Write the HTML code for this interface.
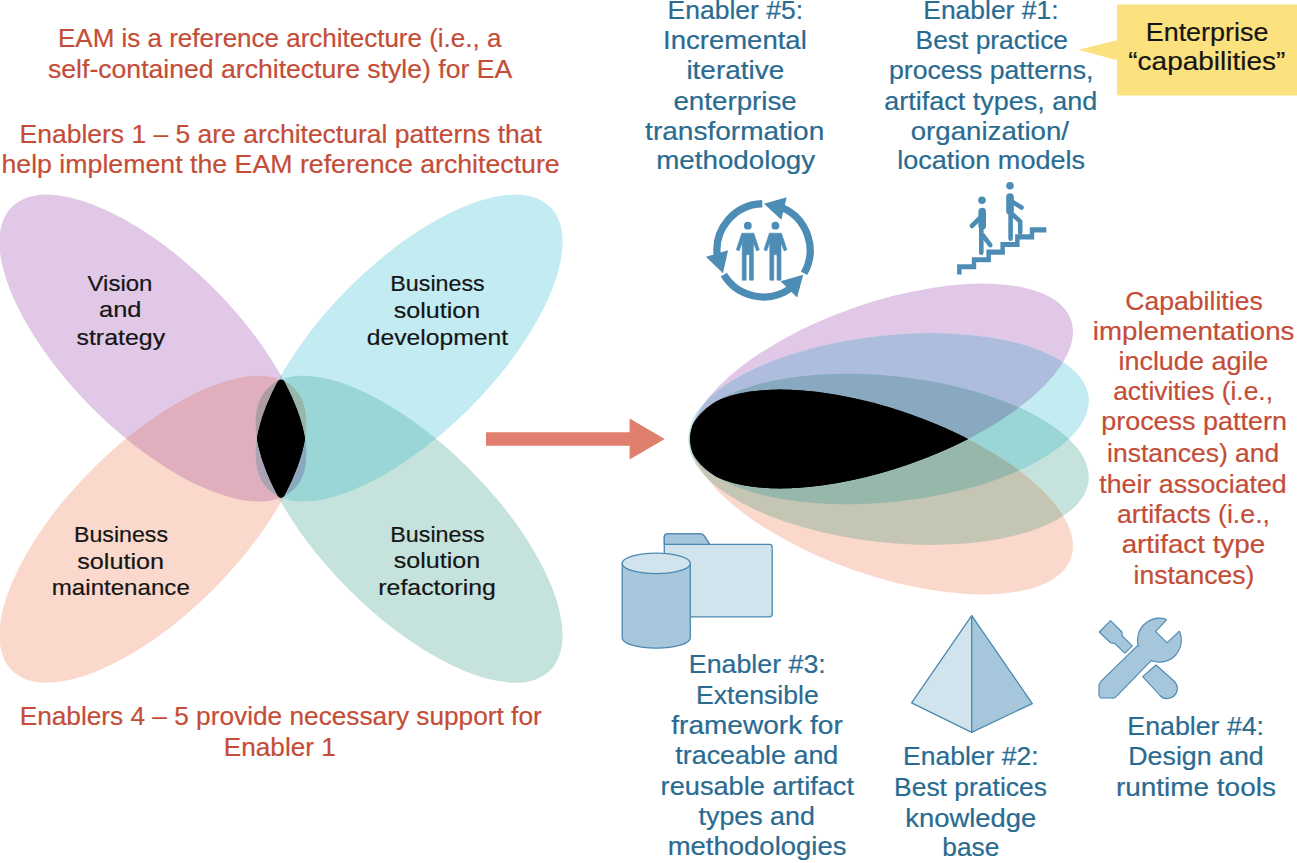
<!DOCTYPE html>
<html><head><meta charset="utf-8"><title>EAM reference architecture</title>
<style>
html,body{margin:0;padding:0;background:#fff;}
body{width:1297px;height:863px;overflow:hidden;position:relative;}
svg{position:absolute;left:0;top:0;display:block;}
text{font-family:"Liberation Sans", sans-serif;}
</style></head><body>
<svg width="1297" height="863" viewBox="0 0 1297 863">
<rect x="0" y="0" width="1297" height="863" fill="#fff"/>
<defs>
<clipPath id="Lc0"><ellipse cx="152.90" cy="348.10" rx="199.60" ry="85.30" transform="rotate(45.00 152.90 348.10)"/></clipPath>
<clipPath id="Lc1"><ellipse cx="409.10" cy="348.10" rx="199.60" ry="85.30" transform="rotate(-45.00 409.10 348.10)"/></clipPath>
<clipPath id="Lc2"><ellipse cx="152.90" cy="529.20" rx="199.60" ry="85.30" transform="rotate(-45.00 152.90 529.20)"/></clipPath>
<clipPath id="Lc3"><ellipse cx="409.10" cy="529.20" rx="199.60" ry="85.30" transform="rotate(45.00 409.10 529.20)"/></clipPath>
<clipPath id="Lk01" clip-path="url(#Lc0)"><ellipse cx="409.10" cy="348.10" rx="199.60" ry="85.30" transform="rotate(-45.00 409.10 348.10)"/></clipPath>
<clipPath id="Lk02" clip-path="url(#Lc0)"><ellipse cx="152.90" cy="529.20" rx="199.60" ry="85.30" transform="rotate(-45.00 152.90 529.20)"/></clipPath>
<clipPath id="Lk12" clip-path="url(#Lc1)"><ellipse cx="152.90" cy="529.20" rx="199.60" ry="85.30" transform="rotate(-45.00 152.90 529.20)"/></clipPath>
<clipPath id="Lk012" clip-path="url(#Lk01)"><ellipse cx="152.90" cy="529.20" rx="199.60" ry="85.30" transform="rotate(-45.00 152.90 529.20)"/></clipPath>
<clipPath id="Rc0"><ellipse cx="881.50" cy="386.00" rx="200.70" ry="82.90" transform="rotate(-19.19 881.50 386.00)"/></clipPath>
<clipPath id="Rc1"><ellipse cx="888.70" cy="418.70" rx="201.10" ry="83.30" transform="rotate(-6.18 888.70 418.70)"/></clipPath>
<clipPath id="Rc2"><ellipse cx="888.70" cy="459.30" rx="201.10" ry="83.30" transform="rotate(6.18 888.70 459.30)"/></clipPath>
<clipPath id="Rc3"><ellipse cx="881.50" cy="492.00" rx="200.70" ry="82.90" transform="rotate(19.19 881.50 492.00)"/></clipPath>
<clipPath id="Rk01" clip-path="url(#Rc0)"><ellipse cx="888.70" cy="418.70" rx="201.10" ry="83.30" transform="rotate(-6.18 888.70 418.70)"/></clipPath>
<clipPath id="Rk02" clip-path="url(#Rc0)"><ellipse cx="888.70" cy="459.30" rx="201.10" ry="83.30" transform="rotate(6.18 888.70 459.30)"/></clipPath>
<clipPath id="Rk12" clip-path="url(#Rc1)"><ellipse cx="888.70" cy="459.30" rx="201.10" ry="83.30" transform="rotate(6.18 888.70 459.30)"/></clipPath>
<clipPath id="Rk012" clip-path="url(#Rk01)"><ellipse cx="888.70" cy="459.30" rx="201.10" ry="83.30" transform="rotate(6.18 888.70 459.30)"/></clipPath>
</defs>
<g>
<ellipse cx="152.90" cy="348.10" rx="199.60" ry="85.30" transform="rotate(45.00 152.90 348.10)" fill="#e0c8e6"/>
<ellipse cx="409.10" cy="348.10" rx="199.60" ry="85.30" transform="rotate(-45.00 409.10 348.10)" fill="#c2ecf2"/>
<ellipse cx="152.90" cy="529.20" rx="199.60" ry="85.30" transform="rotate(-45.00 152.90 529.20)" fill="#fad9cc"/>
<ellipse cx="409.10" cy="529.20" rx="199.60" ry="85.30" transform="rotate(45.00 409.10 529.20)" fill="#c5e3dc"/>
<g clip-path="url(#Lc0)"><ellipse cx="409.10" cy="348.10" rx="199.60" ry="85.30" transform="rotate(-45.00 409.10 348.10)" fill="#aebdde"/></g>
<g clip-path="url(#Lc0)"><ellipse cx="152.90" cy="529.20" rx="199.60" ry="85.30" transform="rotate(-45.00 152.90 529.20)" fill="#e0aebc"/></g>
<g clip-path="url(#Lc0)"><ellipse cx="409.10" cy="529.20" rx="199.60" ry="85.30" transform="rotate(45.00 409.10 529.20)" fill="#b1b6ca"/></g>
<g clip-path="url(#Lc1)"><ellipse cx="152.90" cy="529.20" rx="199.60" ry="85.30" transform="rotate(-45.00 152.90 529.20)" fill="#c2cdc6"/></g>
<g clip-path="url(#Lc1)"><ellipse cx="409.10" cy="529.20" rx="199.60" ry="85.30" transform="rotate(45.00 409.10 529.20)" fill="#9ad6d5"/></g>
<g clip-path="url(#Lc2)"><ellipse cx="409.10" cy="529.20" rx="199.60" ry="85.30" transform="rotate(45.00 409.10 529.20)" fill="#c5c5b4"/></g>
<g clip-path="url(#Lk01)"><ellipse cx="152.90" cy="529.20" rx="199.60" ry="85.30" transform="rotate(-45.00 152.90 529.20)" fill="#aba2b3"/></g>
<g clip-path="url(#Lk01)"><ellipse cx="409.10" cy="529.20" rx="199.60" ry="85.30" transform="rotate(45.00 409.10 529.20)" fill="#88a9c0"/></g>
<g clip-path="url(#Lk02)"><ellipse cx="409.10" cy="529.20" rx="199.60" ry="85.30" transform="rotate(45.00 409.10 529.20)" fill="#ae9ca3"/></g>
<g clip-path="url(#Lk12)"><ellipse cx="409.10" cy="529.20" rx="199.60" ry="85.30" transform="rotate(45.00 409.10 529.20)" fill="#97b7ab"/></g>
<g clip-path="url(#Lk012)"><ellipse cx="409.10" cy="529.20" rx="199.60" ry="85.30" transform="rotate(45.00 409.10 529.20)" fill="#000"/></g>
<ellipse cx="881.50" cy="386.00" rx="200.70" ry="82.90" transform="rotate(-19.19 881.50 386.00)" fill="#e0c8e6"/>
<ellipse cx="888.70" cy="418.70" rx="201.10" ry="83.30" transform="rotate(-6.18 888.70 418.70)" fill="#c2ecf2"/>
<ellipse cx="888.70" cy="459.30" rx="201.10" ry="83.30" transform="rotate(6.18 888.70 459.30)" fill="#c5e3dc"/>
<ellipse cx="881.50" cy="492.00" rx="200.70" ry="82.90" transform="rotate(19.19 881.50 492.00)" fill="#fad9cc"/>
<g clip-path="url(#Rc0)"><ellipse cx="888.70" cy="418.70" rx="201.10" ry="83.30" transform="rotate(-6.18 888.70 418.70)" fill="#aebdde"/></g>
<g clip-path="url(#Rc0)"><ellipse cx="888.70" cy="459.30" rx="201.10" ry="83.30" transform="rotate(6.18 888.70 459.30)" fill="#b1b6ca"/></g>
<g clip-path="url(#Rc0)"><ellipse cx="881.50" cy="492.00" rx="200.70" ry="82.90" transform="rotate(19.19 881.50 492.00)" fill="#e0aebc"/></g>
<g clip-path="url(#Rc1)"><ellipse cx="888.70" cy="459.30" rx="201.10" ry="83.30" transform="rotate(6.18 888.70 459.30)" fill="#9ad6d5"/></g>
<g clip-path="url(#Rc1)"><ellipse cx="881.50" cy="492.00" rx="200.70" ry="82.90" transform="rotate(19.19 881.50 492.00)" fill="#c2cdc6"/></g>
<g clip-path="url(#Rc2)"><ellipse cx="881.50" cy="492.00" rx="200.70" ry="82.90" transform="rotate(19.19 881.50 492.00)" fill="#c5c5b4"/></g>
<g clip-path="url(#Rk01)"><ellipse cx="888.70" cy="459.30" rx="201.10" ry="83.30" transform="rotate(6.18 888.70 459.30)" fill="#88a9c0"/></g>
<g clip-path="url(#Rk01)"><ellipse cx="881.50" cy="492.00" rx="200.70" ry="82.90" transform="rotate(19.19 881.50 492.00)" fill="#aba2b3"/></g>
<g clip-path="url(#Rk02)"><ellipse cx="881.50" cy="492.00" rx="200.70" ry="82.90" transform="rotate(19.19 881.50 492.00)" fill="#ae9ca3"/></g>
<g clip-path="url(#Rk12)"><ellipse cx="881.50" cy="492.00" rx="200.70" ry="82.90" transform="rotate(19.19 881.50 492.00)" fill="#97b7ab"/></g>
<g clip-path="url(#Rk012)"><ellipse cx="881.50" cy="492.00" rx="200.70" ry="82.90" transform="rotate(19.19 881.50 492.00)" fill="#000"/></g>
<path d="M305.05,438.65 L305.04,438.73 L305.03,438.80 L305.01,438.88 L305.00,438.95 L304.99,439.03 L304.98,439.10 L304.96,439.18 L304.95,439.25 L304.94,439.33 L304.92,439.40 L304.91,439.48 L304.90,439.55 L304.89,439.63 L304.87,439.70 L304.86,439.78 L304.85,439.85 L304.83,439.92 L304.82,440.00 L304.81,440.07 L304.80,440.15 L304.78,440.22 L304.77,440.30 L304.76,440.37 L304.74,440.44 L304.73,440.52 L304.72,440.59 L304.70,440.67 L304.69,440.74 L304.68,440.81 L304.66,440.89 L304.65,440.96 L304.64,441.03 L304.62,441.11 L304.61,441.18 L304.60,441.25 L304.58,441.33 L304.57,441.40 L304.55,441.48 L304.54,441.55 L304.53,441.62 L304.51,441.70 L304.50,441.77 L304.48,441.84 L304.47,441.92 L304.46,441.99 L304.44,442.06 L304.43,442.13 L304.41,442.21 L304.40,442.28 L304.39,442.35 L304.37,442.43 L304.36,442.50 L304.34,442.57 L304.33,442.65 L304.31,442.72 L304.30,442.79 L304.29,442.86 L304.27,442.94 L304.26,443.01 L304.24,443.08 L304.23,443.16 L304.21,443.23 L304.20,443.30 L304.18,443.37 L304.17,443.45 L304.15,443.52 L304.14,443.59 L304.12,443.67 L304.11,443.74 L304.09,443.81 L304.08,443.88 L304.06,443.96 L304.05,444.03 L304.03,444.10 L304.02,444.18 L304.00,444.25 L303.99,444.32 L303.97,444.39 L303.95,444.47 L303.94,444.54 L303.92,444.61 L303.91,444.69 L303.89,444.76 L303.88,444.83 L303.86,444.90 L303.85,444.98 L303.83,445.05 L303.81,445.12 L303.80,445.20 L303.78,445.27 L303.77,445.34 L303.75,445.41 L303.73,445.49 L303.72,445.56 L303.70,445.63 L303.68,445.71 L303.67,445.78 L303.65,445.85 L303.64,445.93 L303.62,446.00 L303.60,446.07 L303.59,446.15 L303.57,446.22 L303.55,446.29 L303.54,446.37 L303.52,446.44 L303.50,446.51 L303.49,446.59 L303.47,446.66 L303.45,446.73 L303.44,446.81 L303.42,446.88 L303.40,446.95 L303.38,447.03 L303.37,447.10 L303.35,447.18 L303.33,447.25 L303.31,447.32 L303.30,447.40 L303.28,447.47 L303.26,447.55 L303.24,447.62 L303.23,447.69 L303.21,447.77 L303.19,447.84 L303.17,447.92 L303.16,447.99 L303.14,448.07 L303.12,448.14 L303.10,448.21 L303.08,448.29 L303.07,448.36 L303.05,448.44 L303.03,448.51 L303.01,448.59 L302.99,448.66 L302.97,448.74 L302.96,448.81 L302.94,448.89 L302.92,448.96 L302.90,449.04 L302.88,449.11 L302.86,449.19 L302.84,449.27 L302.82,449.34 L302.81,449.42 L302.79,449.49 L302.77,449.57 L302.75,449.65 L302.73,449.72 L302.71,449.80 L302.69,449.87 L302.67,449.95 L302.65,450.03 L302.63,450.10 L302.61,450.18 L302.59,450.26 L302.57,450.33 L302.55,450.41 L302.53,450.49 L302.51,450.56 L302.49,450.64 L302.47,450.72 L302.45,450.80 L302.43,450.87 L302.41,450.95 L302.39,451.03 L302.37,451.11 L302.35,451.19 L302.33,451.26 L302.31,451.34 L302.29,451.42 L302.27,451.50 L302.24,451.58 L302.22,451.66 L302.20,451.73 L302.18,451.81 L302.16,451.89 L302.14,451.97 L302.12,452.05 L302.10,452.13 L302.07,452.21 L302.05,452.29 L302.03,452.37 L302.01,452.45 L301.99,452.53 L301.96,452.61 L301.94,452.69 L301.92,452.77 L301.90,452.85 L301.88,452.93 L301.85,453.01 L301.83,453.10 L301.81,453.18 L301.78,453.26 L301.76,453.34 L301.74,453.42 L301.72,453.50 L301.69,453.59 L301.67,453.67 L301.65,453.75 L301.62,453.83 L301.60,453.92 L301.58,454.00 L301.55,454.08 L301.53,454.16 L301.50,454.25 L301.48,454.33 L301.46,454.42 L301.43,454.50 L301.41,454.58 L301.38,454.67 L301.36,454.75 L301.33,454.84 L301.31,454.92 L301.29,455.01 L301.26,455.09 L301.24,455.18 L301.21,455.26 L301.18,455.35 L301.16,455.43 L301.13,455.52 L301.11,455.61 L301.08,455.69 L301.06,455.78 L301.03,455.87 L301.00,455.95 L300.98,456.04 L300.95,456.13 L300.93,456.22 L300.90,456.31 L300.87,456.39 L300.85,456.48 L300.82,456.57 L300.79,456.66 L300.77,456.75 L300.74,456.84 L300.71,456.93 L300.68,457.02 L300.66,457.11 L300.63,457.20 L300.60,457.29 L300.57,457.38 L300.54,457.47 L300.52,457.56 L300.49,457.65 L300.46,457.75 L300.43,457.84 L300.40,457.93 L300.37,458.02 L300.34,458.12 L300.31,458.21 L300.28,458.30 L300.26,458.40 L300.23,458.49 L300.20,458.58 L300.17,458.68 L300.14,458.77 L300.11,458.87 L300.08,458.96 L300.04,459.06 L300.01,459.15 L299.98,459.25 L299.95,459.35 L299.92,459.44 L299.89,459.54 L299.86,459.64 L299.83,459.74 L299.79,459.83 L299.76,459.93 L299.73,460.03 L299.70,460.13 L299.67,460.23 L299.63,460.33 L299.60,460.43 L299.57,460.53 L299.53,460.63 L299.50,460.73 L299.47,460.83 L299.43,460.93 L299.40,461.03 L299.37,461.14 L299.33,461.24 L299.30,461.34 L299.26,461.45 L299.23,461.55 L299.19,461.65 L299.16,461.76 L299.12,461.86 L299.09,461.97 L299.05,462.07 L299.01,462.18 L298.98,462.28 L298.94,462.39 L298.91,462.50 L298.87,462.61 L298.83,462.71 L298.79,462.82 L298.76,462.93 L298.72,463.04 L298.68,463.15 L298.64,463.26 L298.61,463.37 L298.57,463.48 L298.53,463.59 L298.49,463.70 L298.45,463.81 L298.41,463.93 L298.37,464.04 L298.33,464.15 L298.29,464.27 L298.25,464.38 L298.21,464.49 L298.17,464.61 L298.13,464.72 L298.09,464.84 L298.04,464.96 L298.00,465.07 L297.96,465.19 L297.92,465.31 L297.88,465.43 L297.83,465.55 L297.79,465.67 L297.75,465.78 L297.70,465.91 L297.66,466.03 L297.61,466.15 L297.57,466.27 L297.52,466.39 L297.48,466.51 L297.43,466.64 L297.39,466.76 L297.34,466.89 L297.30,467.01 L297.25,467.14 L297.20,467.26 L297.15,467.39 L297.11,467.52 L297.06,467.65 L297.01,467.77 L296.96,467.90 L296.91,468.03 L296.86,468.16 L296.81,468.29 L296.77,468.43 L296.71,468.56 L296.66,468.69 L296.61,468.82 L296.56,468.96 L296.51,469.09 L296.46,469.23 L296.41,469.36 L296.35,469.50 L296.30,469.64 L296.25,469.77 L296.19,469.91 L296.14,470.05 L296.09,470.19 L296.03,470.33 L295.98,470.47 L295.92,470.62 L295.86,470.76 L295.81,470.90 L295.75,471.05 L295.69,471.19 L295.63,471.34 L295.58,471.48 L295.52,471.63 L295.46,471.78 L295.40,471.93 L295.34,472.08 L295.28,472.23 L295.22,472.38 L295.16,472.53 L295.10,472.68 L295.03,472.83 L294.97,472.99 L294.91,473.14 L294.84,473.30 L294.78,473.46 L294.72,473.61 L294.65,473.77 L294.59,473.93 L294.52,474.09 L294.45,474.25 L294.39,474.41 L294.32,474.58 L294.25,474.74 L294.18,474.90 L294.11,475.07 L294.04,475.24 L293.97,475.40 L293.90,475.57 L293.83,475.74 L293.76,475.91 L293.68,476.08 L293.61,476.25 L293.54,476.43 L293.46,476.60 L293.39,476.78 L293.31,476.95 L293.24,477.13 L293.16,477.31 L293.08,477.49 L293.00,477.67 L292.93,477.85 L292.85,478.03 L292.77,478.22 L292.68,478.40 L292.60,478.59 L292.52,478.78 L292.44,478.96 L292.35,479.15 L292.27,479.34 L292.19,479.54 L292.10,479.73 L292.01,479.92 L291.93,480.12 L291.84,480.31 L291.75,480.51 L291.66,480.71 L291.57,480.91 L291.48,481.11 L291.39,481.32 L291.29,481.52 L291.20,481.73 L291.10,481.93 L291.01,482.14 L290.91,482.35 L290.82,482.56 L290.72,482.78 L290.62,482.99 L290.52,483.20 L290.42,483.42 L290.32,483.64 L290.21,483.86 L290.11,484.08 L290.01,484.30 L289.90,484.53 L289.79,484.75 L289.69,484.98 L289.58,485.21 L289.47,485.44 L289.36,485.67 L289.25,485.90 L289.13,486.14 L289.02,486.37 L288.91,486.61 L288.79,486.85 L288.67,487.09 L288.55,487.34 L288.44,487.58 L288.31,487.83 L288.19,488.08 L288.07,488.33 L287.95,488.58 L287.82,488.83 L287.69,489.09 L287.57,489.35 L287.44,489.61 L287.31,489.87 L287.18,490.13 L287.04,490.40 L286.91,490.66 L286.77,490.93 L286.64,491.20 L286.50,491.48 L286.36,491.75 L286.22,492.03 L286.07,492.31 L285.93,492.59 L285.78,492.87 L285.63,493.16 L285.49,493.45 L285.34,493.74 L285.18,494.03 L285.03,494.32 L284.87,494.62 L284.72,494.92 L284.56,495.22 L284.40,495.53 L284.24,495.83 L284.07,496.14 L283.91,496.44 L283.73,496.53 L283.55,496.61 L283.37,496.70 L283.19,496.78 L283.01,496.87 L282.83,496.95 L282.65,497.03 L282.47,497.12 L282.29,497.20 L282.11,497.28 L281.92,497.36 L281.74,497.43 L281.55,497.51 L281.37,497.59 L281.19,497.67 L281.00,497.74 L280.81,497.67 L280.63,497.59 L280.45,497.51 L280.26,497.43 L280.08,497.36 L279.89,497.28 L279.71,497.20 L279.53,497.12 L279.35,497.03 L279.17,496.95 L278.99,496.87 L278.81,496.78 L278.63,496.70 L278.45,496.61 L278.27,496.53 L278.09,496.44 L277.93,496.14 L277.76,495.83 L277.60,495.53 L277.44,495.22 L277.28,494.92 L277.13,494.62 L276.97,494.32 L276.82,494.03 L276.66,493.74 L276.51,493.45 L276.37,493.16 L276.22,492.87 L276.07,492.59 L275.93,492.31 L275.78,492.03 L275.64,491.75 L275.50,491.48 L275.36,491.20 L275.23,490.93 L275.09,490.66 L274.96,490.40 L274.82,490.13 L274.69,489.87 L274.56,489.61 L274.43,489.35 L274.31,489.09 L274.18,488.83 L274.05,488.58 L273.93,488.33 L273.81,488.08 L273.69,487.83 L273.56,487.58 L273.45,487.34 L273.33,487.09 L273.21,486.85 L273.09,486.61 L272.98,486.37 L272.87,486.14 L272.75,485.90 L272.64,485.67 L272.53,485.44 L272.42,485.21 L272.31,484.98 L272.21,484.75 L272.10,484.53 L271.99,484.30 L271.89,484.08 L271.79,483.86 L271.68,483.64 L271.58,483.42 L271.48,483.20 L271.38,482.99 L271.28,482.78 L271.18,482.56 L271.09,482.35 L270.99,482.14 L270.90,481.93 L270.80,481.73 L270.71,481.52 L270.61,481.32 L270.52,481.11 L270.43,480.91 L270.34,480.71 L270.25,480.51 L270.16,480.31 L270.07,480.12 L269.99,479.92 L269.90,479.73 L269.81,479.54 L269.73,479.34 L269.65,479.15 L269.56,478.96 L269.48,478.78 L269.40,478.59 L269.32,478.40 L269.23,478.22 L269.15,478.03 L269.07,477.85 L269.00,477.67 L268.92,477.49 L268.84,477.31 L268.76,477.13 L268.69,476.95 L268.61,476.78 L268.54,476.60 L268.46,476.43 L268.39,476.25 L268.32,476.08 L268.24,475.91 L268.17,475.74 L268.10,475.57 L268.03,475.40 L267.96,475.24 L267.89,475.07 L267.82,474.90 L267.75,474.74 L267.68,474.58 L267.61,474.41 L267.55,474.25 L267.48,474.09 L267.41,473.93 L267.35,473.77 L267.28,473.61 L267.22,473.46 L267.16,473.30 L267.09,473.14 L267.03,472.99 L266.97,472.83 L266.90,472.68 L266.84,472.53 L266.78,472.38 L266.72,472.23 L266.66,472.08 L266.60,471.93 L266.54,471.78 L266.48,471.63 L266.42,471.48 L266.37,471.34 L266.31,471.19 L266.25,471.05 L266.19,470.90 L266.14,470.76 L266.08,470.62 L266.02,470.47 L265.97,470.33 L265.91,470.19 L265.86,470.05 L265.81,469.91 L265.75,469.77 L265.70,469.64 L265.65,469.50 L265.59,469.36 L265.54,469.23 L265.49,469.09 L265.44,468.96 L265.39,468.82 L265.34,468.69 L265.29,468.56 L265.23,468.43 L265.19,468.29 L265.14,468.16 L265.09,468.03 L265.04,467.90 L264.99,467.77 L264.94,467.65 L264.89,467.52 L264.85,467.39 L264.80,467.26 L264.75,467.14 L264.70,467.01 L264.66,466.89 L264.61,466.76 L264.57,466.64 L264.52,466.51 L264.48,466.39 L264.43,466.27 L264.39,466.15 L264.34,466.03 L264.30,465.91 L264.25,465.78 L264.21,465.67 L264.17,465.55 L264.12,465.43 L264.08,465.31 L264.04,465.19 L264.00,465.07 L263.96,464.96 L263.91,464.84 L263.87,464.72 L263.83,464.61 L263.79,464.49 L263.75,464.38 L263.71,464.27 L263.67,464.15 L263.63,464.04 L263.59,463.93 L263.55,463.81 L263.51,463.70 L263.47,463.59 L263.43,463.48 L263.39,463.37 L263.36,463.26 L263.32,463.15 L263.28,463.04 L263.24,462.93 L263.21,462.82 L263.17,462.71 L263.13,462.61 L263.09,462.50 L263.06,462.39 L263.02,462.28 L262.99,462.18 L262.95,462.07 L262.91,461.97 L262.88,461.86 L262.84,461.76 L262.81,461.65 L262.77,461.55 L262.74,461.45 L262.70,461.34 L262.67,461.24 L262.63,461.14 L262.60,461.03 L262.57,460.93 L262.53,460.83 L262.50,460.73 L262.47,460.63 L262.43,460.53 L262.40,460.43 L262.37,460.33 L262.33,460.23 L262.30,460.13 L262.27,460.03 L262.24,459.93 L262.21,459.83 L262.17,459.74 L262.14,459.64 L262.11,459.54 L262.08,459.44 L262.05,459.35 L262.02,459.25 L261.99,459.15 L261.96,459.06 L261.92,458.96 L261.89,458.87 L261.86,458.77 L261.83,458.68 L261.80,458.58 L261.77,458.49 L261.74,458.40 L261.72,458.30 L261.69,458.21 L261.66,458.12 L261.63,458.02 L261.60,457.93 L261.57,457.84 L261.54,457.75 L261.51,457.65 L261.48,457.56 L261.46,457.47 L261.43,457.38 L261.40,457.29 L261.37,457.20 L261.34,457.11 L261.32,457.02 L261.29,456.93 L261.26,456.84 L261.23,456.75 L261.21,456.66 L261.18,456.57 L261.15,456.48 L261.13,456.39 L261.10,456.31 L261.07,456.22 L261.05,456.13 L261.02,456.04 L261.00,455.95 L260.97,455.87 L260.94,455.78 L260.92,455.69 L260.89,455.61 L260.87,455.52 L260.84,455.43 L260.82,455.35 L260.79,455.26 L260.76,455.18 L260.74,455.09 L260.71,455.01 L260.69,454.92 L260.67,454.84 L260.64,454.75 L260.62,454.67 L260.59,454.58 L260.57,454.50 L260.54,454.42 L260.52,454.33 L260.50,454.25 L260.47,454.16 L260.45,454.08 L260.42,454.00 L260.40,453.92 L260.38,453.83 L260.35,453.75 L260.33,453.67 L260.31,453.59 L260.28,453.50 L260.26,453.42 L260.24,453.34 L260.22,453.26 L260.19,453.18 L260.17,453.10 L260.15,453.01 L260.12,452.93 L260.10,452.85 L260.08,452.77 L260.06,452.69 L260.04,452.61 L260.01,452.53 L259.99,452.45 L259.97,452.37 L259.95,452.29 L259.93,452.21 L259.90,452.13 L259.88,452.05 L259.86,451.97 L259.84,451.89 L259.82,451.81 L259.80,451.73 L259.78,451.66 L259.76,451.58 L259.73,451.50 L259.71,451.42 L259.69,451.34 L259.67,451.26 L259.65,451.19 L259.63,451.11 L259.61,451.03 L259.59,450.95 L259.57,450.87 L259.55,450.80 L259.53,450.72 L259.51,450.64 L259.49,450.56 L259.47,450.49 L259.45,450.41 L259.43,450.33 L259.41,450.26 L259.39,450.18 L259.37,450.10 L259.35,450.03 L259.33,449.95 L259.31,449.87 L259.29,449.80 L259.27,449.72 L259.25,449.65 L259.23,449.57 L259.21,449.49 L259.19,449.42 L259.18,449.34 L259.16,449.27 L259.14,449.19 L259.12,449.11 L259.10,449.04 L259.08,448.96 L259.06,448.89 L259.04,448.81 L259.03,448.74 L259.01,448.66 L258.99,448.59 L258.97,448.51 L258.95,448.44 L258.93,448.36 L258.92,448.29 L258.90,448.21 L258.88,448.14 L258.86,448.07 L258.84,447.99 L258.83,447.92 L258.81,447.84 L258.79,447.77 L258.77,447.69 L258.76,447.62 L258.74,447.55 L258.72,447.47 L258.70,447.40 L258.69,447.32 L258.67,447.25 L258.65,447.18 L258.63,447.10 L258.62,447.03 L258.60,446.95 L258.58,446.88 L258.56,446.81 L258.55,446.73 L258.53,446.66 L258.51,446.59 L258.50,446.51 L258.48,446.44 L258.46,446.37 L258.45,446.29 L258.43,446.22 L258.41,446.15 L258.40,446.07 L258.38,446.00 L258.36,445.93 L258.35,445.85 L258.33,445.78 L258.32,445.71 L258.30,445.63 L258.28,445.56 L258.27,445.49 L258.25,445.41 L258.23,445.34 L258.22,445.27 L258.20,445.20 L258.19,445.12 L258.17,445.05 L258.15,444.98 L258.14,444.90 L258.12,444.83 L258.11,444.76 L258.09,444.69 L258.08,444.61 L258.06,444.54 L258.05,444.47 L258.03,444.39 L258.01,444.32 L258.00,444.25 L257.98,444.18 L257.97,444.10 L257.95,444.03 L257.94,443.96 L257.92,443.88 L257.91,443.81 L257.89,443.74 L257.88,443.67 L257.86,443.59 L257.85,443.52 L257.83,443.45 L257.82,443.37 L257.80,443.30 L257.79,443.23 L257.77,443.16 L257.76,443.08 L257.74,443.01 L257.73,442.94 L257.71,442.86 L257.70,442.79 L257.69,442.72 L257.67,442.65 L257.66,442.57 L257.64,442.50 L257.63,442.43 L257.61,442.35 L257.60,442.28 L257.59,442.21 L257.57,442.13 L257.56,442.06 L257.54,441.99 L257.53,441.92 L257.52,441.84 L257.50,441.77 L257.49,441.70 L257.47,441.62 L257.46,441.55 L257.45,441.48 L257.43,441.40 L257.42,441.33 L257.40,441.25 L257.39,441.18 L257.38,441.11 L257.36,441.03 L257.35,440.96 L257.34,440.89 L257.32,440.81 L257.31,440.74 L257.30,440.67 L257.28,440.59 L257.27,440.52 L257.26,440.44 L257.24,440.37 L257.23,440.30 L257.22,440.22 L257.20,440.15 L257.19,440.07 L257.18,440.00 L257.17,439.92 L257.15,439.85 L257.14,439.78 L257.13,439.70 L257.11,439.63 L257.10,439.55 L257.09,439.48 L257.08,439.40 L257.06,439.33 L257.05,439.25 L257.04,439.18 L257.02,439.10 L257.01,439.03 L257.00,438.95 L256.99,438.88 L256.97,438.80 L256.96,438.73 L256.95,438.65 L256.96,438.57 L256.97,438.50 L256.99,438.42 L257.00,438.35 L257.01,438.27 L257.02,438.20 L257.04,438.12 L257.05,438.05 L257.06,437.97 L257.08,437.90 L257.09,437.82 L257.10,437.75 L257.11,437.67 L257.13,437.60 L257.14,437.52 L257.15,437.45 L257.17,437.38 L257.18,437.30 L257.19,437.23 L257.20,437.15 L257.22,437.08 L257.23,437.00 L257.24,436.93 L257.26,436.86 L257.27,436.78 L257.28,436.71 L257.30,436.63 L257.31,436.56 L257.32,436.49 L257.34,436.41 L257.35,436.34 L257.36,436.27 L257.38,436.19 L257.39,436.12 L257.40,436.05 L257.42,435.97 L257.43,435.90 L257.45,435.82 L257.46,435.75 L257.47,435.68 L257.49,435.60 L257.50,435.53 L257.52,435.46 L257.53,435.38 L257.54,435.31 L257.56,435.24 L257.57,435.17 L257.59,435.09 L257.60,435.02 L257.61,434.95 L257.63,434.87 L257.64,434.80 L257.66,434.73 L257.67,434.65 L257.69,434.58 L257.70,434.51 L257.71,434.44 L257.73,434.36 L257.74,434.29 L257.76,434.22 L257.77,434.14 L257.79,434.07 L257.80,434.00 L257.82,433.93 L257.83,433.85 L257.85,433.78 L257.86,433.71 L257.88,433.63 L257.89,433.56 L257.91,433.49 L257.92,433.42 L257.94,433.34 L257.95,433.27 L257.97,433.20 L257.98,433.12 L258.00,433.05 L258.01,432.98 L258.03,432.91 L258.05,432.83 L258.06,432.76 L258.08,432.69 L258.09,432.61 L258.11,432.54 L258.12,432.47 L258.14,432.40 L258.15,432.32 L258.17,432.25 L258.19,432.18 L258.20,432.10 L258.22,432.03 L258.23,431.96 L258.25,431.89 L258.27,431.81 L258.28,431.74 L258.30,431.67 L258.32,431.59 L258.33,431.52 L258.35,431.45 L258.36,431.37 L258.38,431.30 L258.40,431.23 L258.41,431.15 L258.43,431.08 L258.45,431.01 L258.46,430.93 L258.48,430.86 L258.50,430.79 L258.51,430.71 L258.53,430.64 L258.55,430.57 L258.56,430.49 L258.58,430.42 L258.60,430.35 L258.62,430.27 L258.63,430.20 L258.65,430.12 L258.67,430.05 L258.69,429.98 L258.70,429.90 L258.72,429.83 L258.74,429.75 L258.76,429.68 L258.77,429.61 L258.79,429.53 L258.81,429.46 L258.83,429.38 L258.84,429.31 L258.86,429.23 L258.88,429.16 L258.90,429.09 L258.92,429.01 L258.93,428.94 L258.95,428.86 L258.97,428.79 L258.99,428.71 L259.01,428.64 L259.03,428.56 L259.04,428.49 L259.06,428.41 L259.08,428.34 L259.10,428.26 L259.12,428.19 L259.14,428.11 L259.16,428.03 L259.18,427.96 L259.19,427.88 L259.21,427.81 L259.23,427.73 L259.25,427.65 L259.27,427.58 L259.29,427.50 L259.31,427.43 L259.33,427.35 L259.35,427.27 L259.37,427.20 L259.39,427.12 L259.41,427.04 L259.43,426.97 L259.45,426.89 L259.47,426.81 L259.49,426.74 L259.51,426.66 L259.53,426.58 L259.55,426.50 L259.57,426.43 L259.59,426.35 L259.61,426.27 L259.63,426.19 L259.65,426.11 L259.67,426.04 L259.69,425.96 L259.71,425.88 L259.73,425.80 L259.76,425.72 L259.78,425.64 L259.80,425.57 L259.82,425.49 L259.84,425.41 L259.86,425.33 L259.88,425.25 L259.90,425.17 L259.93,425.09 L259.95,425.01 L259.97,424.93 L259.99,424.85 L260.01,424.77 L260.04,424.69 L260.06,424.61 L260.08,424.53 L260.10,424.45 L260.12,424.37 L260.15,424.29 L260.17,424.20 L260.19,424.12 L260.22,424.04 L260.24,423.96 L260.26,423.88 L260.28,423.80 L260.31,423.71 L260.33,423.63 L260.35,423.55 L260.38,423.47 L260.40,423.38 L260.42,423.30 L260.45,423.22 L260.47,423.14 L260.50,423.05 L260.52,422.97 L260.54,422.88 L260.57,422.80 L260.59,422.72 L260.62,422.63 L260.64,422.55 L260.67,422.46 L260.69,422.38 L260.71,422.29 L260.74,422.21 L260.76,422.12 L260.79,422.04 L260.82,421.95 L260.84,421.87 L260.87,421.78 L260.89,421.69 L260.92,421.61 L260.94,421.52 L260.97,421.43 L261.00,421.35 L261.02,421.26 L261.05,421.17 L261.07,421.08 L261.10,420.99 L261.13,420.91 L261.15,420.82 L261.18,420.73 L261.21,420.64 L261.23,420.55 L261.26,420.46 L261.29,420.37 L261.32,420.28 L261.34,420.19 L261.37,420.10 L261.40,420.01 L261.43,419.92 L261.46,419.83 L261.48,419.74 L261.51,419.65 L261.54,419.55 L261.57,419.46 L261.60,419.37 L261.63,419.28 L261.66,419.18 L261.69,419.09 L261.72,419.00 L261.74,418.90 L261.77,418.81 L261.80,418.72 L261.83,418.62 L261.86,418.53 L261.89,418.43 L261.92,418.34 L261.96,418.24 L261.99,418.15 L262.02,418.05 L262.05,417.95 L262.08,417.86 L262.11,417.76 L262.14,417.66 L262.17,417.56 L262.21,417.47 L262.24,417.37 L262.27,417.27 L262.30,417.17 L262.33,417.07 L262.37,416.97 L262.40,416.87 L262.43,416.77 L262.47,416.67 L262.50,416.57 L262.53,416.47 L262.57,416.37 L262.60,416.27 L262.63,416.16 L262.67,416.06 L262.70,415.96 L262.74,415.85 L262.77,415.75 L262.81,415.65 L262.84,415.54 L262.88,415.44 L262.91,415.33 L262.95,415.23 L262.99,415.12 L263.02,415.02 L263.06,414.91 L263.09,414.80 L263.13,414.69 L263.17,414.59 L263.21,414.48 L263.24,414.37 L263.28,414.26 L263.32,414.15 L263.36,414.04 L263.39,413.93 L263.43,413.82 L263.47,413.71 L263.51,413.60 L263.55,413.49 L263.59,413.37 L263.63,413.26 L263.67,413.15 L263.71,413.03 L263.75,412.92 L263.79,412.81 L263.83,412.69 L263.87,412.58 L263.91,412.46 L263.96,412.34 L264.00,412.23 L264.04,412.11 L264.08,411.99 L264.12,411.87 L264.17,411.75 L264.21,411.63 L264.25,411.52 L264.30,411.39 L264.34,411.27 L264.39,411.15 L264.43,411.03 L264.48,410.91 L264.52,410.79 L264.57,410.66 L264.61,410.54 L264.66,410.41 L264.70,410.29 L264.75,410.16 L264.80,410.04 L264.85,409.91 L264.89,409.78 L264.94,409.65 L264.99,409.53 L265.04,409.40 L265.09,409.27 L265.14,409.14 L265.19,409.01 L265.23,408.87 L265.29,408.74 L265.34,408.61 L265.39,408.48 L265.44,408.34 L265.49,408.21 L265.54,408.07 L265.59,407.94 L265.65,407.80 L265.70,407.66 L265.75,407.53 L265.81,407.39 L265.86,407.25 L265.91,407.11 L265.97,406.97 L266.02,406.83 L266.08,406.68 L266.14,406.54 L266.19,406.40 L266.25,406.25 L266.31,406.11 L266.37,405.96 L266.42,405.82 L266.48,405.67 L266.54,405.52 L266.60,405.37 L266.66,405.22 L266.72,405.07 L266.78,404.92 L266.84,404.77 L266.90,404.62 L266.97,404.47 L267.03,404.31 L267.09,404.16 L267.16,404.00 L267.22,403.84 L267.28,403.69 L267.35,403.53 L267.41,403.37 L267.48,403.21 L267.55,403.05 L267.61,402.89 L267.68,402.72 L267.75,402.56 L267.82,402.40 L267.89,402.23 L267.96,402.06 L268.03,401.90 L268.10,401.73 L268.17,401.56 L268.24,401.39 L268.32,401.22 L268.39,401.05 L268.46,400.87 L268.54,400.70 L268.61,400.52 L268.69,400.35 L268.76,400.17 L268.84,399.99 L268.92,399.81 L269.00,399.63 L269.07,399.45 L269.15,399.27 L269.23,399.08 L269.32,398.90 L269.40,398.71 L269.48,398.52 L269.56,398.34 L269.65,398.15 L269.73,397.96 L269.81,397.76 L269.90,397.57 L269.99,397.38 L270.07,397.18 L270.16,396.99 L270.25,396.79 L270.34,396.59 L270.43,396.39 L270.52,396.19 L270.61,395.98 L270.71,395.78 L270.80,395.57 L270.90,395.37 L270.99,395.16 L271.09,394.95 L271.18,394.74 L271.28,394.52 L271.38,394.31 L271.48,394.10 L271.58,393.88 L271.68,393.66 L271.79,393.44 L271.89,393.22 L271.99,393.00 L272.10,392.77 L272.21,392.55 L272.31,392.32 L272.42,392.09 L272.53,391.86 L272.64,391.63 L272.75,391.40 L272.87,391.16 L272.98,390.93 L273.09,390.69 L273.21,390.45 L273.33,390.21 L273.45,389.96 L273.56,389.72 L273.69,389.47 L273.81,389.22 L273.93,388.97 L274.05,388.72 L274.18,388.47 L274.31,388.21 L274.43,387.95 L274.56,387.69 L274.69,387.43 L274.82,387.17 L274.96,386.90 L275.09,386.64 L275.23,386.37 L275.36,386.10 L275.50,385.82 L275.64,385.55 L275.78,385.27 L275.93,384.99 L276.07,384.71 L276.22,384.43 L276.37,384.14 L276.51,383.85 L276.66,383.56 L276.82,383.27 L276.97,382.98 L277.13,382.68 L277.28,382.38 L277.44,382.08 L277.60,381.77 L277.76,381.47 L277.93,381.16 L278.09,380.86 L278.27,380.77 L278.45,380.69 L278.63,380.60 L278.81,380.52 L278.99,380.43 L279.17,380.35 L279.35,380.27 L279.53,380.18 L279.71,380.10 L279.89,380.02 L280.08,379.94 L280.26,379.87 L280.45,379.79 L280.63,379.71 L280.81,379.63 L281.00,379.56 L281.19,379.63 L281.37,379.71 L281.55,379.79 L281.74,379.87 L281.92,379.94 L282.11,380.02 L282.29,380.10 L282.47,380.18 L282.65,380.27 L282.83,380.35 L283.01,380.43 L283.19,380.52 L283.37,380.60 L283.55,380.69 L283.73,380.77 L283.91,380.86 L284.07,381.16 L284.24,381.47 L284.40,381.77 L284.56,382.08 L284.72,382.38 L284.87,382.68 L285.03,382.98 L285.18,383.27 L285.34,383.56 L285.49,383.85 L285.63,384.14 L285.78,384.43 L285.93,384.71 L286.07,384.99 L286.22,385.27 L286.36,385.55 L286.50,385.82 L286.64,386.10 L286.77,386.37 L286.91,386.64 L287.04,386.90 L287.18,387.17 L287.31,387.43 L287.44,387.69 L287.57,387.95 L287.69,388.21 L287.82,388.47 L287.95,388.72 L288.07,388.97 L288.19,389.22 L288.31,389.47 L288.44,389.72 L288.55,389.96 L288.67,390.21 L288.79,390.45 L288.91,390.69 L289.02,390.93 L289.13,391.16 L289.25,391.40 L289.36,391.63 L289.47,391.86 L289.58,392.09 L289.69,392.32 L289.79,392.55 L289.90,392.77 L290.01,393.00 L290.11,393.22 L290.21,393.44 L290.32,393.66 L290.42,393.88 L290.52,394.10 L290.62,394.31 L290.72,394.52 L290.82,394.74 L290.91,394.95 L291.01,395.16 L291.10,395.37 L291.20,395.57 L291.29,395.78 L291.39,395.98 L291.48,396.19 L291.57,396.39 L291.66,396.59 L291.75,396.79 L291.84,396.99 L291.93,397.18 L292.01,397.38 L292.10,397.57 L292.19,397.76 L292.27,397.96 L292.35,398.15 L292.44,398.34 L292.52,398.52 L292.60,398.71 L292.68,398.90 L292.77,399.08 L292.85,399.27 L292.93,399.45 L293.00,399.63 L293.08,399.81 L293.16,399.99 L293.24,400.17 L293.31,400.35 L293.39,400.52 L293.46,400.70 L293.54,400.87 L293.61,401.05 L293.68,401.22 L293.76,401.39 L293.83,401.56 L293.90,401.73 L293.97,401.90 L294.04,402.06 L294.11,402.23 L294.18,402.40 L294.25,402.56 L294.32,402.72 L294.39,402.89 L294.45,403.05 L294.52,403.21 L294.59,403.37 L294.65,403.53 L294.72,403.69 L294.78,403.84 L294.84,404.00 L294.91,404.16 L294.97,404.31 L295.03,404.47 L295.10,404.62 L295.16,404.77 L295.22,404.92 L295.28,405.07 L295.34,405.22 L295.40,405.37 L295.46,405.52 L295.52,405.67 L295.58,405.82 L295.63,405.96 L295.69,406.11 L295.75,406.25 L295.81,406.40 L295.86,406.54 L295.92,406.68 L295.98,406.83 L296.03,406.97 L296.09,407.11 L296.14,407.25 L296.19,407.39 L296.25,407.53 L296.30,407.66 L296.35,407.80 L296.41,407.94 L296.46,408.07 L296.51,408.21 L296.56,408.34 L296.61,408.48 L296.66,408.61 L296.71,408.74 L296.77,408.87 L296.81,409.01 L296.86,409.14 L296.91,409.27 L296.96,409.40 L297.01,409.53 L297.06,409.65 L297.11,409.78 L297.15,409.91 L297.20,410.04 L297.25,410.16 L297.30,410.29 L297.34,410.41 L297.39,410.54 L297.43,410.66 L297.48,410.79 L297.52,410.91 L297.57,411.03 L297.61,411.15 L297.66,411.27 L297.70,411.39 L297.75,411.52 L297.79,411.63 L297.83,411.75 L297.88,411.87 L297.92,411.99 L297.96,412.11 L298.00,412.23 L298.04,412.34 L298.09,412.46 L298.13,412.58 L298.17,412.69 L298.21,412.81 L298.25,412.92 L298.29,413.03 L298.33,413.15 L298.37,413.26 L298.41,413.37 L298.45,413.49 L298.49,413.60 L298.53,413.71 L298.57,413.82 L298.61,413.93 L298.64,414.04 L298.68,414.15 L298.72,414.26 L298.76,414.37 L298.79,414.48 L298.83,414.59 L298.87,414.69 L298.91,414.80 L298.94,414.91 L298.98,415.02 L299.01,415.12 L299.05,415.23 L299.09,415.33 L299.12,415.44 L299.16,415.54 L299.19,415.65 L299.23,415.75 L299.26,415.85 L299.30,415.96 L299.33,416.06 L299.37,416.16 L299.40,416.27 L299.43,416.37 L299.47,416.47 L299.50,416.57 L299.53,416.67 L299.57,416.77 L299.60,416.87 L299.63,416.97 L299.67,417.07 L299.70,417.17 L299.73,417.27 L299.76,417.37 L299.79,417.47 L299.83,417.56 L299.86,417.66 L299.89,417.76 L299.92,417.86 L299.95,417.95 L299.98,418.05 L300.01,418.15 L300.04,418.24 L300.08,418.34 L300.11,418.43 L300.14,418.53 L300.17,418.62 L300.20,418.72 L300.23,418.81 L300.26,418.90 L300.28,419.00 L300.31,419.09 L300.34,419.18 L300.37,419.28 L300.40,419.37 L300.43,419.46 L300.46,419.55 L300.49,419.65 L300.52,419.74 L300.54,419.83 L300.57,419.92 L300.60,420.01 L300.63,420.10 L300.66,420.19 L300.68,420.28 L300.71,420.37 L300.74,420.46 L300.77,420.55 L300.79,420.64 L300.82,420.73 L300.85,420.82 L300.87,420.91 L300.90,420.99 L300.93,421.08 L300.95,421.17 L300.98,421.26 L301.00,421.35 L301.03,421.43 L301.06,421.52 L301.08,421.61 L301.11,421.69 L301.13,421.78 L301.16,421.87 L301.18,421.95 L301.21,422.04 L301.24,422.12 L301.26,422.21 L301.29,422.29 L301.31,422.38 L301.33,422.46 L301.36,422.55 L301.38,422.63 L301.41,422.72 L301.43,422.80 L301.46,422.88 L301.48,422.97 L301.50,423.05 L301.53,423.14 L301.55,423.22 L301.58,423.30 L301.60,423.38 L301.62,423.47 L301.65,423.55 L301.67,423.63 L301.69,423.71 L301.72,423.80 L301.74,423.88 L301.76,423.96 L301.78,424.04 L301.81,424.12 L301.83,424.20 L301.85,424.29 L301.88,424.37 L301.90,424.45 L301.92,424.53 L301.94,424.61 L301.96,424.69 L301.99,424.77 L302.01,424.85 L302.03,424.93 L302.05,425.01 L302.07,425.09 L302.10,425.17 L302.12,425.25 L302.14,425.33 L302.16,425.41 L302.18,425.49 L302.20,425.57 L302.22,425.64 L302.24,425.72 L302.27,425.80 L302.29,425.88 L302.31,425.96 L302.33,426.04 L302.35,426.11 L302.37,426.19 L302.39,426.27 L302.41,426.35 L302.43,426.43 L302.45,426.50 L302.47,426.58 L302.49,426.66 L302.51,426.74 L302.53,426.81 L302.55,426.89 L302.57,426.97 L302.59,427.04 L302.61,427.12 L302.63,427.20 L302.65,427.27 L302.67,427.35 L302.69,427.43 L302.71,427.50 L302.73,427.58 L302.75,427.65 L302.77,427.73 L302.79,427.81 L302.81,427.88 L302.82,427.96 L302.84,428.03 L302.86,428.11 L302.88,428.19 L302.90,428.26 L302.92,428.34 L302.94,428.41 L302.96,428.49 L302.97,428.56 L302.99,428.64 L303.01,428.71 L303.03,428.79 L303.05,428.86 L303.07,428.94 L303.08,429.01 L303.10,429.09 L303.12,429.16 L303.14,429.23 L303.16,429.31 L303.17,429.38 L303.19,429.46 L303.21,429.53 L303.23,429.61 L303.24,429.68 L303.26,429.75 L303.28,429.83 L303.30,429.90 L303.31,429.98 L303.33,430.05 L303.35,430.12 L303.37,430.20 L303.38,430.27 L303.40,430.35 L303.42,430.42 L303.44,430.49 L303.45,430.57 L303.47,430.64 L303.49,430.71 L303.50,430.79 L303.52,430.86 L303.54,430.93 L303.55,431.01 L303.57,431.08 L303.59,431.15 L303.60,431.23 L303.62,431.30 L303.64,431.37 L303.65,431.45 L303.67,431.52 L303.68,431.59 L303.70,431.67 L303.72,431.74 L303.73,431.81 L303.75,431.89 L303.77,431.96 L303.78,432.03 L303.80,432.10 L303.81,432.18 L303.83,432.25 L303.85,432.32 L303.86,432.40 L303.88,432.47 L303.89,432.54 L303.91,432.61 L303.92,432.69 L303.94,432.76 L303.95,432.83 L303.97,432.91 L303.99,432.98 L304.00,433.05 L304.02,433.12 L304.03,433.20 L304.05,433.27 L304.06,433.34 L304.08,433.42 L304.09,433.49 L304.11,433.56 L304.12,433.63 L304.14,433.71 L304.15,433.78 L304.17,433.85 L304.18,433.93 L304.20,434.00 L304.21,434.07 L304.23,434.14 L304.24,434.22 L304.26,434.29 L304.27,434.36 L304.29,434.44 L304.30,434.51 L304.31,434.58 L304.33,434.65 L304.34,434.73 L304.36,434.80 L304.37,434.87 L304.39,434.95 L304.40,435.02 L304.41,435.09 L304.43,435.17 L304.44,435.24 L304.46,435.31 L304.47,435.38 L304.48,435.46 L304.50,435.53 L304.51,435.60 L304.53,435.68 L304.54,435.75 L304.55,435.82 L304.57,435.90 L304.58,435.97 L304.60,436.05 L304.61,436.12 L304.62,436.19 L304.64,436.27 L304.65,436.34 L304.66,436.41 L304.68,436.49 L304.69,436.56 L304.70,436.63 L304.72,436.71 L304.73,436.78 L304.74,436.86 L304.76,436.93 L304.77,437.00 L304.78,437.08 L304.80,437.15 L304.81,437.23 L304.82,437.30 L304.83,437.38 L304.85,437.45 L304.86,437.52 L304.87,437.60 L304.89,437.67 L304.90,437.75 L304.91,437.82 L304.92,437.90 L304.94,437.97 L304.95,438.05 L304.96,438.12 L304.98,438.20 L304.99,438.27 L305.00,438.35 L305.01,438.42 L305.03,438.50 L305.04,438.57 Z" fill="#000"/>
<path d="M968.10,439.00 L967.07,439.52 L966.05,440.04 L965.04,440.56 L964.03,441.06 L963.02,441.56 L962.03,442.05 L961.04,442.54 L960.05,443.02 L959.07,443.50 L958.10,443.97 L957.13,444.43 L956.17,444.89 L955.21,445.34 L954.26,445.79 L953.32,446.23 L952.38,446.67 L951.45,447.10 L950.53,447.52 L949.61,447.94 L948.70,448.36 L947.79,448.76 L946.89,449.17 L946.00,449.57 L945.11,449.96 L944.23,450.35 L943.35,450.74 L942.48,451.11 L941.62,451.49 L940.76,451.86 L939.91,452.23 L939.06,452.59 L938.22,452.94 L937.39,453.29 L936.56,453.64 L935.74,453.99 L934.93,454.33 L934.12,454.66 L933.31,454.99 L932.51,455.32 L931.72,455.64 L930.93,455.96 L930.15,456.27 L929.38,456.58 L928.61,456.89 L927.84,457.19 L927.09,457.49 L926.33,457.79 L925.58,458.08 L924.84,458.37 L924.11,458.66 L923.38,458.94 L922.65,459.22 L921.93,459.49 L921.21,459.76 L920.51,460.03 L919.80,460.30 L919.10,460.56 L918.41,460.82 L917.72,461.07 L917.03,461.33 L916.36,461.58 L915.68,461.82 L915.01,462.07 L914.35,462.31 L913.69,462.54 L913.04,462.78 L912.39,463.01 L911.74,463.24 L911.10,463.47 L910.47,463.69 L909.84,463.91 L909.21,464.13 L908.59,464.35 L907.97,464.56 L907.36,464.77 L906.75,464.98 L906.15,465.19 L905.55,465.39 L904.95,465.60 L904.36,465.80 L903.78,465.99 L903.20,466.19 L902.62,466.38 L902.05,466.57 L901.48,466.76 L900.91,466.95 L900.35,467.13 L899.79,467.31 L899.24,467.49 L898.69,467.67 L898.14,467.85 L897.60,468.02 L897.06,468.19 L896.53,468.37 L896.00,468.53 L895.47,468.70 L894.95,468.87 L894.43,469.03 L893.92,469.19 L893.41,469.35 L892.90,469.51 L892.39,469.66 L891.89,469.82 L891.39,469.97 L890.90,470.12 L890.41,470.27 L889.92,470.42 L889.44,470.57 L888.95,470.71 L888.48,470.85 L888.00,471.00 L887.53,471.14 L887.06,471.27 L886.60,471.41 L886.14,471.55 L885.68,471.68 L885.22,471.82 L884.77,471.95 L884.32,472.08 L883.87,472.21 L883.43,472.33 L882.99,472.46 L882.55,472.59 L882.11,472.71 L881.68,472.83 L881.25,472.95 L880.82,473.07 L880.40,473.19 L879.98,473.31 L879.56,473.43 L879.14,473.54 L878.73,473.66 L878.32,473.77 L877.91,473.88 L877.51,474.00 L877.10,474.11 L876.70,474.21 L876.30,474.32 L875.91,474.43 L875.51,474.53 L875.12,474.64 L874.74,474.74 L874.35,474.85 L873.97,474.95 L873.58,475.05 L873.21,475.15 L872.83,475.25 L872.45,475.35 L872.08,475.44 L871.71,475.54 L871.34,475.63 L870.98,475.73 L870.61,475.82 L870.25,475.92 L869.89,476.01 L869.54,476.10 L869.18,476.19 L868.83,476.28 L868.48,476.37 L868.13,476.45 L867.78,476.54 L867.44,476.63 L867.09,476.71 L866.75,476.80 L866.41,476.88 L866.08,476.96 L865.74,477.05 L865.41,477.13 L865.07,477.21 L864.74,477.29 L864.42,477.37 L864.09,477.45 L863.77,477.53 L863.44,477.60 L863.12,477.68 L862.80,477.76 L862.48,477.83 L862.17,477.91 L861.85,477.98 L861.54,478.06 L861.23,478.13 L860.92,478.20 L860.61,478.27 L860.31,478.34 L860.00,478.41 L859.70,478.48 L859.40,478.55 L859.10,478.62 L858.80,478.69 L858.50,478.76 L858.21,478.83 L857.91,478.89 L857.62,478.96 L857.33,479.02 L857.04,479.09 L856.75,479.15 L856.47,479.22 L856.18,479.28 L855.90,479.34 L855.62,479.41 L855.33,479.47 L855.06,479.53 L854.78,479.59 L854.50,479.65 L854.22,479.71 L853.95,479.77 L853.68,479.83 L853.40,479.89 L853.13,479.95 L852.86,480.01 L852.60,480.06 L852.33,480.12 L852.06,480.18 L851.80,480.23 L851.54,480.29 L851.27,480.34 L851.01,480.40 L850.75,480.45 L850.49,480.51 L850.24,480.56 L849.98,480.61 L849.73,480.67 L849.47,480.72 L849.22,480.77 L848.97,480.82 L848.72,480.87 L848.47,480.92 L848.22,480.97 L847.97,481.02 L847.72,481.07 L847.48,481.12 L847.23,481.17 L846.99,481.22 L846.75,481.27 L846.51,481.32 L846.27,481.37 L846.03,481.41 L845.79,481.46 L845.55,481.51 L845.31,481.55 L845.08,481.60 L844.84,481.64 L844.61,481.69 L844.38,481.73 L844.15,481.78 L843.91,481.82 L843.68,481.87 L843.45,481.91 L843.23,481.96 L843.00,482.00 L842.77,482.04 L842.55,482.08 L842.32,482.13 L842.10,482.17 L841.87,482.21 L841.65,482.25 L841.43,482.29 L841.21,482.33 L840.99,482.37 L840.77,482.42 L840.55,482.46 L840.33,482.50 L840.12,482.54 L839.90,482.57 L839.69,482.61 L839.47,482.65 L839.26,482.69 L839.04,482.73 L838.83,482.77 L838.62,482.81 L838.41,482.84 L838.20,482.88 L837.99,482.92 L837.78,482.95 L837.57,482.99 L837.36,483.03 L837.16,483.06 L836.95,483.10 L836.75,483.14 L836.54,483.17 L836.34,483.21 L836.13,483.24 L835.93,483.28 L835.73,483.31 L835.53,483.35 L835.33,483.38 L835.13,483.41 L834.93,483.45 L834.73,483.48 L834.53,483.51 L834.33,483.55 L834.13,483.58 L833.94,483.61 L833.74,483.65 L833.55,483.68 L833.35,483.71 L833.16,483.74 L832.96,483.77 L832.77,483.81 L832.58,483.84 L832.38,483.87 L832.19,483.90 L832.00,483.93 L831.81,483.96 L831.62,483.99 L831.43,484.02 L831.24,484.05 L831.05,484.08 L830.87,484.11 L830.68,484.14 L830.49,484.17 L830.30,484.20 L830.12,484.23 L829.93,484.26 L829.75,484.29 L829.56,484.32 L829.38,484.34 L829.20,484.37 L829.01,484.40 L828.83,484.43 L828.65,484.46 L828.47,484.48 L828.28,484.51 L828.10,484.54 L827.92,484.57 L827.74,484.59 L827.56,484.62 L827.38,484.65 L827.21,484.67 L827.03,484.70 L826.85,484.73 L826.67,484.75 L826.49,484.78 L826.32,484.81 L826.14,484.83 L825.97,484.86 L825.79,484.88 L825.61,484.91 L825.44,484.93 L825.27,484.96 L825.09,484.98 L824.92,485.01 L824.74,485.03 L824.57,485.06 L824.40,485.08 L824.23,485.11 L824.05,485.13 L823.88,485.15 L823.71,485.18 L823.54,485.20 L823.37,485.22 L823.20,485.25 L823.03,485.27 L822.86,485.29 L822.69,485.32 L822.52,485.34 L822.35,485.36 L822.18,485.39 L822.02,485.41 L821.85,485.43 L821.68,485.45 L821.51,485.48 L821.35,485.50 L821.18,485.52 L821.01,485.54 L820.85,485.56 L820.68,485.59 L820.52,485.61 L820.35,485.63 L820.19,485.65 L820.02,485.67 L819.86,485.69 L819.69,485.71 L819.53,485.74 L819.37,485.76 L819.20,485.78 L819.04,485.80 L818.88,485.82 L818.72,485.84 L818.55,485.86 L818.39,485.88 L818.23,485.90 L818.07,485.92 L817.91,485.94 L817.74,485.96 L817.58,485.98 L817.42,486.00 L817.26,486.02 L817.10,486.04 L816.94,486.06 L816.78,486.08 L816.62,486.09 L816.46,486.11 L816.30,486.13 L816.14,486.15 L815.98,486.17 L815.83,486.19 L815.67,486.21 L815.51,486.23 L815.35,486.24 L815.19,486.26 L815.03,486.28 L814.88,486.30 L814.72,486.32 L814.56,486.33 L814.40,486.35 L814.25,486.37 L814.09,486.39 L813.93,486.41 L813.78,486.42 L813.62,486.44 L813.46,486.46 L813.31,486.47 L813.15,486.49 L813.00,486.51 L812.84,486.53 L812.69,486.54 L812.53,486.56 L812.37,486.58 L812.22,486.59 L812.06,486.61 L811.91,486.63 L811.75,486.64 L811.60,486.66 L811.45,486.67 L811.29,486.69 L811.14,486.71 L810.98,486.72 L810.83,486.74 L810.67,486.75 L810.52,486.77 L810.37,486.79 L810.21,486.80 L810.06,486.82 L809.91,486.83 L809.75,486.85 L809.60,486.86 L809.45,486.88 L809.29,486.89 L809.14,486.91 L808.99,486.92 L808.83,486.94 L808.68,486.95 L808.53,486.97 L808.37,486.98 L808.22,487.00 L808.07,487.01 L807.92,487.02 L807.76,487.04 L807.61,487.05 L807.46,487.07 L807.31,487.08 L807.15,487.10 L807.00,487.11 L806.85,487.12 L806.70,487.14 L806.54,487.15 L806.39,487.16 L806.24,487.18 L806.09,487.19 L805.94,487.20 L805.78,487.22 L805.63,487.23 L805.48,487.24 L805.33,487.26 L805.18,487.27 L805.02,487.28 L804.87,487.30 L804.72,487.31 L804.57,487.32 L804.42,487.33 L804.26,487.35 L804.11,487.36 L803.96,487.37 L803.81,487.38 L803.66,487.40 L803.50,487.41 L803.35,487.42 L803.20,487.43 L803.05,487.45 L802.90,487.46 L802.74,487.47 L802.59,487.48 L802.44,487.49 L802.29,487.51 L802.14,487.52 L801.98,487.53 L801.83,487.54 L801.68,487.55 L801.53,487.56 L801.37,487.57 L801.22,487.59 L801.07,487.60 L800.92,487.61 L800.76,487.62 L800.61,487.63 L800.46,487.64 L800.31,487.65 L800.15,487.66 L800.00,487.67 L799.85,487.68 L799.69,487.69 L799.54,487.70 L799.39,487.71 L799.23,487.72 L799.08,487.73 L798.93,487.74 L798.77,487.75 L798.62,487.76 L798.47,487.77 L798.31,487.78 L798.16,487.79 L798.01,487.80 L797.85,487.81 L797.70,487.82 L797.54,487.83 L797.39,487.84 L797.23,487.85 L797.08,487.86 L796.93,487.87 L796.77,487.88 L796.62,487.89 L796.46,487.90 L796.31,487.91 L796.15,487.92 L795.99,487.92 L795.84,487.93 L795.68,487.94 L795.53,487.95 L795.37,487.96 L795.22,487.97 L795.06,487.98 L794.90,487.98 L794.75,487.99 L794.59,488.00 L794.43,488.01 L794.28,488.02 L794.12,488.02 L793.96,488.03 L793.80,488.04 L793.65,488.05 L793.49,488.06 L793.33,488.06 L793.17,488.07 L793.02,488.08 L792.86,488.08 L792.70,488.09 L792.54,488.10 L792.38,488.11 L792.22,488.11 L792.06,488.12 L791.90,488.13 L791.74,488.13 L791.58,488.14 L791.42,488.15 L791.26,488.15 L791.10,488.16 L790.94,488.17 L790.78,488.17 L790.62,488.18 L790.46,488.19 L790.30,488.19 L790.13,488.20 L789.97,488.20 L789.81,488.21 L789.65,488.21 L789.48,488.22 L789.32,488.23 L789.16,488.23 L788.99,488.24 L788.83,488.24 L788.67,488.25 L788.50,488.25 L788.34,488.26 L788.17,488.26 L788.01,488.27 L787.84,488.27 L787.68,488.28 L787.51,488.28 L787.35,488.29 L787.18,488.29 L787.01,488.29 L786.85,488.30 L786.68,488.30 L786.51,488.31 L786.34,488.31 L786.18,488.31 L786.01,488.32 L785.84,488.32 L785.67,488.32 L785.50,488.33 L785.33,488.33 L785.16,488.33 L784.99,488.34 L784.82,488.34 L784.65,488.34 L784.48,488.35 L784.31,488.35 L784.14,488.35 L783.96,488.35 L783.79,488.36 L783.62,488.36 L783.45,488.36 L783.27,488.36 L783.10,488.37 L782.92,488.37 L782.75,488.37 L782.58,488.37 L782.40,488.37 L782.22,488.37 L782.05,488.37 L781.87,488.38 L781.70,488.38 L781.52,488.38 L781.34,488.38 L781.16,488.38 L780.99,488.38 L780.81,488.38 L780.63,488.38 L780.45,488.38 L780.27,488.38 L780.09,488.38 L779.91,488.38 L779.73,488.38 L779.55,488.38 L779.36,488.38 L779.18,488.38 L779.00,488.38 L778.82,488.38 L778.63,488.38 L778.45,488.38 L778.26,488.37 L778.08,488.37 L777.89,488.37 L777.71,488.37 L777.52,488.37 L777.34,488.37 L777.15,488.36 L776.96,488.36 L776.77,488.36 L776.59,488.36 L776.40,488.35 L776.21,488.35 L776.02,488.35 L775.83,488.34 L775.64,488.34 L775.44,488.34 L775.25,488.33 L775.06,488.33 L774.87,488.33 L774.67,488.32 L774.48,488.32 L774.29,488.31 L774.09,488.31 L773.90,488.30 L773.70,488.30 L773.50,488.29 L773.31,488.29 L773.11,488.28 L772.91,488.28 L772.71,488.27 L772.51,488.26 L772.31,488.26 L772.11,488.25 L771.91,488.24 L771.71,488.24 L771.51,488.23 L771.31,488.22 L771.10,488.22 L770.90,488.21 L770.69,488.20 L770.49,488.19 L770.28,488.18 L770.08,488.17 L769.87,488.17 L769.66,488.16 L769.46,488.15 L769.25,488.14 L769.04,488.13 L768.83,488.12 L768.62,488.11 L768.41,488.10 L768.19,488.09 L767.98,488.08 L767.77,488.07 L767.56,488.06 L767.34,488.04 L767.13,488.03 L766.91,488.02 L766.69,488.01 L766.48,488.00 L766.26,487.98 L766.04,487.97 L765.82,487.96 L765.60,487.94 L765.38,487.93 L765.16,487.91 L764.94,487.90 L764.72,487.89 L764.49,487.87 L764.27,487.86 L764.04,487.84 L763.82,487.82 L763.59,487.81 L763.37,487.79 L763.14,487.78 L762.91,487.76 L762.68,487.74 L762.45,487.72 L762.22,487.71 L761.99,487.69 L761.76,487.67 L761.52,487.65 L761.29,487.63 L761.06,487.61 L760.82,487.59 L760.58,487.57 L760.35,487.55 L760.11,487.53 L759.87,487.51 L759.63,487.49 L759.39,487.46 L759.15,487.44 L758.91,487.42 L758.67,487.39 L758.42,487.37 L758.18,487.35 L757.93,487.32 L757.69,487.30 L757.44,487.27 L757.19,487.25 L756.95,487.22 L756.70,487.19 L756.45,487.17 L756.20,487.14 L755.94,487.11 L755.69,487.08 L755.44,487.05 L755.18,487.03 L754.93,487.00 L754.67,486.97 L754.42,486.94 L754.16,486.90 L753.90,486.87 L753.64,486.84 L753.38,486.81 L753.12,486.78 L752.85,486.74 L752.59,486.71 L752.33,486.67 L752.06,486.64 L751.80,486.60 L751.53,486.57 L751.26,486.53 L750.99,486.49 L750.72,486.45 L750.45,486.42 L750.18,486.38 L749.91,486.34 L749.63,486.30 L749.36,486.26 L749.08,486.21 L748.81,486.17 L748.53,486.13 L748.25,486.09 L747.97,486.04 L747.69,486.00 L747.41,485.95 L747.13,485.91 L746.85,485.86 L746.56,485.81 L746.28,485.76 L745.99,485.72 L745.71,485.67 L745.42,485.62 L745.13,485.56 L744.84,485.51 L744.55,485.46 L744.26,485.41 L743.97,485.35 L743.67,485.30 L743.38,485.24 L743.09,485.19 L742.79,485.13 L742.49,485.07 L742.19,485.01 L741.90,484.95 L741.60,484.89 L741.29,484.83 L740.99,484.77 L740.69,484.71 L740.39,484.64 L740.08,484.58 L739.78,484.51 L739.47,484.45 L739.16,484.38 L738.86,484.31 L738.55,484.24 L738.24,484.17 L737.93,484.10 L737.62,484.03 L737.30,483.95 L736.99,483.88 L736.68,483.80 L736.36,483.73 L736.05,483.65 L735.73,483.57 L735.41,483.49 L735.09,483.41 L734.77,483.33 L734.45,483.24 L734.13,483.16 L733.81,483.08 L733.49,482.99 L733.17,482.90 L732.84,482.81 L732.52,482.72 L732.19,482.63 L731.87,482.54 L731.54,482.44 L731.21,482.35 L730.89,482.25 L730.56,482.16 L730.23,482.06 L729.90,481.96 L729.57,481.86 L729.24,481.75 L728.91,481.65 L728.57,481.54 L728.24,481.44 L727.91,481.33 L727.58,481.22 L727.24,481.11 L726.91,481.00 L726.57,480.88 L726.24,480.77 L725.90,480.65 L725.56,480.53 L725.23,480.41 L724.89,480.29 L724.55,480.17 L724.22,480.04 L723.88,479.92 L723.54,479.79 L723.20,479.66 L722.86,479.53 L722.53,479.40 L722.19,479.27 L721.85,479.13 L721.51,478.99 L721.17,478.85 L720.83,478.71 L720.49,478.57 L720.15,478.43 L719.81,478.28 L719.48,478.14 L719.14,477.99 L718.80,477.84 L718.46,477.68 L718.12,477.53 L717.78,477.37 L717.45,477.21 L717.11,477.05 L716.77,476.89 L716.44,476.73 L716.14,476.55 L715.85,476.36 L715.55,476.18 L715.26,475.99 L714.96,475.80 L714.67,475.61 L714.37,475.42 L714.08,475.22 L713.78,475.03 L713.49,474.83 L713.19,474.64 L712.90,474.44 L712.61,474.24 L712.31,474.04 L712.02,473.83 L711.73,473.63 L711.44,473.42 L711.14,473.22 L710.85,473.01 L710.56,472.80 L710.27,472.58 L709.98,472.37 L709.69,472.16 L709.40,471.94 L709.12,471.72 L708.83,471.50 L708.54,471.28 L708.26,471.06 L707.97,470.83 L707.69,470.61 L707.40,470.38 L707.12,470.15 L706.84,469.92 L706.55,469.69 L706.27,469.45 L705.99,469.22 L705.72,468.98 L705.44,468.74 L705.16,468.50 L704.89,468.26 L704.61,468.02 L704.34,467.77 L704.07,467.53 L703.80,467.28 L703.53,467.03 L703.26,466.78 L702.99,466.52 L702.72,466.27 L702.46,466.01 L702.20,465.76 L701.93,465.50 L701.67,465.24 L701.42,464.97 L701.16,464.71 L700.90,464.44 L700.65,464.18 L700.40,463.91 L700.15,463.64 L699.90,463.37 L699.65,463.09 L699.41,462.82 L699.16,462.54 L698.92,462.26 L698.68,461.98 L698.44,461.70 L698.21,461.42 L697.97,461.13 L697.74,460.85 L697.51,460.56 L697.29,460.27 L697.06,459.98 L696.84,459.69 L696.62,459.40 L696.40,459.10 L696.18,458.80 L695.97,458.51 L695.76,458.21 L695.55,457.91 L695.34,457.60 L695.14,457.30 L694.94,457.00 L694.74,456.69 L694.54,456.38 L694.35,456.07 L694.16,455.76 L693.97,455.45 L693.79,455.14 L693.60,454.83 L693.42,454.51 L693.25,454.19 L693.07,453.88 L692.90,453.56 L692.74,453.24 L692.62,452.91 L692.52,452.58 L692.41,452.25 L692.30,451.92 L692.20,451.59 L692.10,451.26 L692.00,450.92 L691.90,450.59 L691.81,450.26 L691.72,449.92 L691.63,449.59 L691.54,449.25 L691.45,448.92 L691.37,448.58 L691.29,448.24 L691.21,447.91 L691.13,447.57 L691.05,447.23 L690.98,446.89 L690.91,446.55 L690.84,446.21 L690.78,445.87 L690.72,445.53 L690.66,445.19 L690.60,444.85 L690.54,444.51 L690.49,444.16 L690.44,443.82 L690.39,443.48 L690.35,443.14 L690.30,442.79 L690.26,442.45 L690.23,442.10 L690.19,441.76 L690.16,441.42 L690.13,441.07 L690.11,440.73 L690.08,440.38 L690.06,440.04 L690.05,439.69 L690.03,439.35 L690.02,439.00 L690.03,438.65 L690.05,438.31 L690.06,437.96 L690.08,437.62 L690.11,437.27 L690.13,436.93 L690.16,436.58 L690.19,436.24 L690.23,435.90 L690.26,435.55 L690.30,435.21 L690.35,434.86 L690.39,434.52 L690.44,434.18 L690.49,433.84 L690.54,433.49 L690.60,433.15 L690.66,432.81 L690.72,432.47 L690.78,432.13 L690.84,431.79 L690.91,431.45 L690.98,431.11 L691.05,430.77 L691.13,430.43 L691.21,430.09 L691.29,429.76 L691.37,429.42 L691.45,429.08 L691.54,428.75 L691.63,428.41 L691.72,428.08 L691.81,427.74 L691.90,427.41 L692.00,427.08 L692.10,426.74 L692.20,426.41 L692.30,426.08 L692.41,425.75 L692.52,425.42 L692.62,425.09 L692.74,424.76 L692.90,424.44 L693.07,424.12 L693.25,423.81 L693.42,423.49 L693.60,423.17 L693.79,422.86 L693.97,422.55 L694.16,422.24 L694.35,421.93 L694.54,421.62 L694.74,421.31 L694.94,421.00 L695.14,420.70 L695.34,420.40 L695.55,420.09 L695.76,419.79 L695.97,419.49 L696.18,419.20 L696.40,418.90 L696.62,418.60 L696.84,418.31 L697.06,418.02 L697.29,417.73 L697.51,417.44 L697.74,417.15 L697.97,416.87 L698.21,416.58 L698.44,416.30 L698.68,416.02 L698.92,415.74 L699.16,415.46 L699.41,415.18 L699.65,414.91 L699.90,414.63 L700.15,414.36 L700.40,414.09 L700.65,413.82 L700.90,413.56 L701.16,413.29 L701.42,413.03 L701.67,412.76 L701.93,412.50 L702.20,412.24 L702.46,411.99 L702.72,411.73 L702.99,411.48 L703.26,411.22 L703.53,410.97 L703.80,410.72 L704.07,410.47 L704.34,410.23 L704.61,409.98 L704.89,409.74 L705.16,409.50 L705.44,409.26 L705.72,409.02 L705.99,408.78 L706.27,408.55 L706.55,408.31 L706.84,408.08 L707.12,407.85 L707.40,407.62 L707.69,407.39 L707.97,407.17 L708.26,406.94 L708.54,406.72 L708.83,406.50 L709.12,406.28 L709.40,406.06 L709.69,405.84 L709.98,405.63 L710.27,405.42 L710.56,405.20 L710.85,404.99 L711.14,404.78 L711.44,404.58 L711.73,404.37 L712.02,404.17 L712.31,403.96 L712.61,403.76 L712.90,403.56 L713.19,403.36 L713.49,403.17 L713.78,402.97 L714.08,402.78 L714.37,402.58 L714.67,402.39 L714.96,402.20 L715.26,402.01 L715.55,401.82 L715.85,401.64 L716.14,401.45 L716.44,401.27 L716.77,401.11 L717.11,400.95 L717.45,400.79 L717.78,400.63 L718.12,400.47 L718.46,400.32 L718.80,400.16 L719.14,400.01 L719.48,399.86 L719.81,399.72 L720.15,399.57 L720.49,399.43 L720.83,399.29 L721.17,399.15 L721.51,399.01 L721.85,398.87 L722.19,398.73 L722.53,398.60 L722.86,398.47 L723.20,398.34 L723.54,398.21 L723.88,398.08 L724.22,397.96 L724.55,397.83 L724.89,397.71 L725.23,397.59 L725.56,397.47 L725.90,397.35 L726.24,397.23 L726.57,397.12 L726.91,397.00 L727.24,396.89 L727.58,396.78 L727.91,396.67 L728.24,396.56 L728.57,396.46 L728.91,396.35 L729.24,396.25 L729.57,396.14 L729.90,396.04 L730.23,395.94 L730.56,395.84 L730.89,395.75 L731.21,395.65 L731.54,395.56 L731.87,395.46 L732.19,395.37 L732.52,395.28 L732.84,395.19 L733.17,395.10 L733.49,395.01 L733.81,394.92 L734.13,394.84 L734.45,394.76 L734.77,394.67 L735.09,394.59 L735.41,394.51 L735.73,394.43 L736.05,394.35 L736.36,394.27 L736.68,394.20 L736.99,394.12 L737.30,394.05 L737.62,393.97 L737.93,393.90 L738.24,393.83 L738.55,393.76 L738.86,393.69 L739.16,393.62 L739.47,393.55 L739.78,393.49 L740.08,393.42 L740.39,393.36 L740.69,393.29 L740.99,393.23 L741.29,393.17 L741.60,393.11 L741.90,393.05 L742.19,392.99 L742.49,392.93 L742.79,392.87 L743.09,392.81 L743.38,392.76 L743.67,392.70 L743.97,392.65 L744.26,392.59 L744.55,392.54 L744.84,392.49 L745.13,392.44 L745.42,392.38 L745.71,392.33 L745.99,392.28 L746.28,392.24 L746.56,392.19 L746.85,392.14 L747.13,392.09 L747.41,392.05 L747.69,392.00 L747.97,391.96 L748.25,391.91 L748.53,391.87 L748.81,391.83 L749.08,391.79 L749.36,391.74 L749.63,391.70 L749.91,391.66 L750.18,391.62 L750.45,391.58 L750.72,391.55 L750.99,391.51 L751.26,391.47 L751.53,391.43 L751.80,391.40 L752.06,391.36 L752.33,391.33 L752.59,391.29 L752.85,391.26 L753.12,391.22 L753.38,391.19 L753.64,391.16 L753.90,391.13 L754.16,391.10 L754.42,391.06 L754.67,391.03 L754.93,391.00 L755.18,390.97 L755.44,390.95 L755.69,390.92 L755.94,390.89 L756.20,390.86 L756.45,390.83 L756.70,390.81 L756.95,390.78 L757.19,390.75 L757.44,390.73 L757.69,390.70 L757.93,390.68 L758.18,390.65 L758.42,390.63 L758.67,390.61 L758.91,390.58 L759.15,390.56 L759.39,390.54 L759.63,390.51 L759.87,390.49 L760.11,390.47 L760.35,390.45 L760.58,390.43 L760.82,390.41 L761.06,390.39 L761.29,390.37 L761.52,390.35 L761.76,390.33 L761.99,390.31 L762.22,390.29 L762.45,390.28 L762.68,390.26 L762.91,390.24 L763.14,390.22 L763.37,390.21 L763.59,390.19 L763.82,390.18 L764.04,390.16 L764.27,390.14 L764.49,390.13 L764.72,390.11 L764.94,390.10 L765.16,390.09 L765.38,390.07 L765.60,390.06 L765.82,390.04 L766.04,390.03 L766.26,390.02 L766.48,390.00 L766.69,389.99 L766.91,389.98 L767.13,389.97 L767.34,389.96 L767.56,389.94 L767.77,389.93 L767.98,389.92 L768.19,389.91 L768.41,389.90 L768.62,389.89 L768.83,389.88 L769.04,389.87 L769.25,389.86 L769.46,389.85 L769.66,389.84 L769.87,389.83 L770.08,389.83 L770.28,389.82 L770.49,389.81 L770.69,389.80 L770.90,389.79 L771.10,389.78 L771.31,389.78 L771.51,389.77 L771.71,389.76 L771.91,389.76 L772.11,389.75 L772.31,389.74 L772.51,389.74 L772.71,389.73 L772.91,389.72 L773.11,389.72 L773.31,389.71 L773.50,389.71 L773.70,389.70 L773.90,389.70 L774.09,389.69 L774.29,389.69 L774.48,389.68 L774.67,389.68 L774.87,389.67 L775.06,389.67 L775.25,389.67 L775.44,389.66 L775.64,389.66 L775.83,389.66 L776.02,389.65 L776.21,389.65 L776.40,389.65 L776.59,389.64 L776.77,389.64 L776.96,389.64 L777.15,389.64 L777.34,389.63 L777.52,389.63 L777.71,389.63 L777.89,389.63 L778.08,389.63 L778.26,389.63 L778.45,389.62 L778.63,389.62 L778.82,389.62 L779.00,389.62 L779.18,389.62 L779.36,389.62 L779.55,389.62 L779.73,389.62 L779.91,389.62 L780.09,389.62 L780.27,389.62 L780.45,389.62 L780.63,389.62 L780.81,389.62 L780.99,389.62 L781.16,389.62 L781.34,389.62 L781.52,389.62 L781.70,389.62 L781.87,389.62 L782.05,389.63 L782.22,389.63 L782.40,389.63 L782.58,389.63 L782.75,389.63 L782.92,389.63 L783.10,389.63 L783.27,389.64 L783.45,389.64 L783.62,389.64 L783.79,389.64 L783.96,389.65 L784.14,389.65 L784.31,389.65 L784.48,389.65 L784.65,389.66 L784.82,389.66 L784.99,389.66 L785.16,389.67 L785.33,389.67 L785.50,389.67 L785.67,389.68 L785.84,389.68 L786.01,389.68 L786.18,389.69 L786.34,389.69 L786.51,389.69 L786.68,389.70 L786.85,389.70 L787.01,389.71 L787.18,389.71 L787.35,389.71 L787.51,389.72 L787.68,389.72 L787.84,389.73 L788.01,389.73 L788.17,389.74 L788.34,389.74 L788.50,389.75 L788.67,389.75 L788.83,389.76 L788.99,389.76 L789.16,389.77 L789.32,389.77 L789.48,389.78 L789.65,389.79 L789.81,389.79 L789.97,389.80 L790.13,389.80 L790.30,389.81 L790.46,389.81 L790.62,389.82 L790.78,389.83 L790.94,389.83 L791.10,389.84 L791.26,389.85 L791.42,389.85 L791.58,389.86 L791.74,389.87 L791.90,389.87 L792.06,389.88 L792.22,389.89 L792.38,389.89 L792.54,389.90 L792.70,389.91 L792.86,389.92 L793.02,389.92 L793.17,389.93 L793.33,389.94 L793.49,389.94 L793.65,389.95 L793.80,389.96 L793.96,389.97 L794.12,389.98 L794.28,389.98 L794.43,389.99 L794.59,390.00 L794.75,390.01 L794.90,390.02 L795.06,390.02 L795.22,390.03 L795.37,390.04 L795.53,390.05 L795.68,390.06 L795.84,390.07 L795.99,390.08 L796.15,390.08 L796.31,390.09 L796.46,390.10 L796.62,390.11 L796.77,390.12 L796.93,390.13 L797.08,390.14 L797.23,390.15 L797.39,390.16 L797.54,390.17 L797.70,390.18 L797.85,390.19 L798.01,390.20 L798.16,390.21 L798.31,390.22 L798.47,390.23 L798.62,390.24 L798.77,390.25 L798.93,390.26 L799.08,390.27 L799.23,390.28 L799.39,390.29 L799.54,390.30 L799.69,390.31 L799.85,390.32 L800.00,390.33 L800.15,390.34 L800.31,390.35 L800.46,390.36 L800.61,390.37 L800.76,390.38 L800.92,390.39 L801.07,390.40 L801.22,390.41 L801.37,390.43 L801.53,390.44 L801.68,390.45 L801.83,390.46 L801.98,390.47 L802.14,390.48 L802.29,390.49 L802.44,390.51 L802.59,390.52 L802.74,390.53 L802.90,390.54 L803.05,390.55 L803.20,390.57 L803.35,390.58 L803.50,390.59 L803.66,390.60 L803.81,390.62 L803.96,390.63 L804.11,390.64 L804.26,390.65 L804.42,390.67 L804.57,390.68 L804.72,390.69 L804.87,390.70 L805.02,390.72 L805.18,390.73 L805.33,390.74 L805.48,390.76 L805.63,390.77 L805.78,390.78 L805.94,390.80 L806.09,390.81 L806.24,390.82 L806.39,390.84 L806.54,390.85 L806.70,390.86 L806.85,390.88 L807.00,390.89 L807.15,390.90 L807.31,390.92 L807.46,390.93 L807.61,390.95 L807.76,390.96 L807.92,390.98 L808.07,390.99 L808.22,391.00 L808.37,391.02 L808.53,391.03 L808.68,391.05 L808.83,391.06 L808.99,391.08 L809.14,391.09 L809.29,391.11 L809.45,391.12 L809.60,391.14 L809.75,391.15 L809.91,391.17 L810.06,391.18 L810.21,391.20 L810.37,391.21 L810.52,391.23 L810.67,391.25 L810.83,391.26 L810.98,391.28 L811.14,391.29 L811.29,391.31 L811.45,391.33 L811.60,391.34 L811.75,391.36 L811.91,391.37 L812.06,391.39 L812.22,391.41 L812.37,391.42 L812.53,391.44 L812.69,391.46 L812.84,391.47 L813.00,391.49 L813.15,391.51 L813.31,391.53 L813.46,391.54 L813.62,391.56 L813.78,391.58 L813.93,391.59 L814.09,391.61 L814.25,391.63 L814.40,391.65 L814.56,391.67 L814.72,391.68 L814.88,391.70 L815.03,391.72 L815.19,391.74 L815.35,391.76 L815.51,391.77 L815.67,391.79 L815.83,391.81 L815.98,391.83 L816.14,391.85 L816.30,391.87 L816.46,391.89 L816.62,391.91 L816.78,391.92 L816.94,391.94 L817.10,391.96 L817.26,391.98 L817.42,392.00 L817.58,392.02 L817.74,392.04 L817.91,392.06 L818.07,392.08 L818.23,392.10 L818.39,392.12 L818.55,392.14 L818.72,392.16 L818.88,392.18 L819.04,392.20 L819.20,392.22 L819.37,392.24 L819.53,392.26 L819.69,392.29 L819.86,392.31 L820.02,392.33 L820.19,392.35 L820.35,392.37 L820.52,392.39 L820.68,392.41 L820.85,392.44 L821.01,392.46 L821.18,392.48 L821.35,392.50 L821.51,392.52 L821.68,392.55 L821.85,392.57 L822.02,392.59 L822.18,392.61 L822.35,392.64 L822.52,392.66 L822.69,392.68 L822.86,392.71 L823.03,392.73 L823.20,392.75 L823.37,392.78 L823.54,392.80 L823.71,392.82 L823.88,392.85 L824.05,392.87 L824.23,392.89 L824.40,392.92 L824.57,392.94 L824.74,392.97 L824.92,392.99 L825.09,393.02 L825.27,393.04 L825.44,393.07 L825.61,393.09 L825.79,393.12 L825.97,393.14 L826.14,393.17 L826.32,393.19 L826.49,393.22 L826.67,393.25 L826.85,393.27 L827.03,393.30 L827.21,393.33 L827.38,393.35 L827.56,393.38 L827.74,393.41 L827.92,393.43 L828.10,393.46 L828.28,393.49 L828.47,393.52 L828.65,393.54 L828.83,393.57 L829.01,393.60 L829.20,393.63 L829.38,393.66 L829.56,393.68 L829.75,393.71 L829.93,393.74 L830.12,393.77 L830.30,393.80 L830.49,393.83 L830.68,393.86 L830.87,393.89 L831.05,393.92 L831.24,393.95 L831.43,393.98 L831.62,394.01 L831.81,394.04 L832.00,394.07 L832.19,394.10 L832.38,394.13 L832.58,394.16 L832.77,394.19 L832.96,394.23 L833.16,394.26 L833.35,394.29 L833.55,394.32 L833.74,394.35 L833.94,394.39 L834.13,394.42 L834.33,394.45 L834.53,394.49 L834.73,394.52 L834.93,394.55 L835.13,394.59 L835.33,394.62 L835.53,394.65 L835.73,394.69 L835.93,394.72 L836.13,394.76 L836.34,394.79 L836.54,394.83 L836.75,394.86 L836.95,394.90 L837.16,394.94 L837.36,394.97 L837.57,395.01 L837.78,395.05 L837.99,395.08 L838.20,395.12 L838.41,395.16 L838.62,395.19 L838.83,395.23 L839.04,395.27 L839.26,395.31 L839.47,395.35 L839.69,395.39 L839.90,395.43 L840.12,395.46 L840.33,395.50 L840.55,395.54 L840.77,395.58 L840.99,395.63 L841.21,395.67 L841.43,395.71 L841.65,395.75 L841.87,395.79 L842.10,395.83 L842.32,395.87 L842.55,395.92 L842.77,395.96 L843.00,396.00 L843.23,396.04 L843.45,396.09 L843.68,396.13 L843.91,396.18 L844.15,396.22 L844.38,396.27 L844.61,396.31 L844.84,396.36 L845.08,396.40 L845.31,396.45 L845.55,396.49 L845.79,396.54 L846.03,396.59 L846.27,396.63 L846.51,396.68 L846.75,396.73 L846.99,396.78 L847.23,396.83 L847.48,396.88 L847.72,396.93 L847.97,396.98 L848.22,397.03 L848.47,397.08 L848.72,397.13 L848.97,397.18 L849.22,397.23 L849.47,397.28 L849.73,397.33 L849.98,397.39 L850.24,397.44 L850.49,397.49 L850.75,397.55 L851.01,397.60 L851.27,397.66 L851.54,397.71 L851.80,397.77 L852.06,397.82 L852.33,397.88 L852.60,397.94 L852.86,397.99 L853.13,398.05 L853.40,398.11 L853.68,398.17 L853.95,398.23 L854.22,398.29 L854.50,398.35 L854.78,398.41 L855.06,398.47 L855.33,398.53 L855.62,398.59 L855.90,398.66 L856.18,398.72 L856.47,398.78 L856.75,398.85 L857.04,398.91 L857.33,398.98 L857.62,399.04 L857.91,399.11 L858.21,399.17 L858.50,399.24 L858.80,399.31 L859.10,399.38 L859.40,399.45 L859.70,399.52 L860.00,399.59 L860.31,399.66 L860.61,399.73 L860.92,399.80 L861.23,399.87 L861.54,399.94 L861.85,400.02 L862.17,400.09 L862.48,400.17 L862.80,400.24 L863.12,400.32 L863.44,400.40 L863.77,400.47 L864.09,400.55 L864.42,400.63 L864.74,400.71 L865.07,400.79 L865.41,400.87 L865.74,400.95 L866.08,401.04 L866.41,401.12 L866.75,401.20 L867.09,401.29 L867.44,401.37 L867.78,401.46 L868.13,401.55 L868.48,401.63 L868.83,401.72 L869.18,401.81 L869.54,401.90 L869.89,401.99 L870.25,402.08 L870.61,402.18 L870.98,402.27 L871.34,402.37 L871.71,402.46 L872.08,402.56 L872.45,402.65 L872.83,402.75 L873.21,402.85 L873.58,402.95 L873.97,403.05 L874.35,403.15 L874.74,403.26 L875.12,403.36 L875.51,403.47 L875.91,403.57 L876.30,403.68 L876.70,403.79 L877.10,403.89 L877.51,404.00 L877.91,404.12 L878.32,404.23 L878.73,404.34 L879.14,404.46 L879.56,404.57 L879.98,404.69 L880.40,404.81 L880.82,404.93 L881.25,405.05 L881.68,405.17 L882.11,405.29 L882.55,405.41 L882.99,405.54 L883.43,405.67 L883.87,405.79 L884.32,405.92 L884.77,406.05 L885.22,406.18 L885.68,406.32 L886.14,406.45 L886.60,406.59 L887.06,406.73 L887.53,406.86 L888.00,407.00 L888.48,407.15 L888.95,407.29 L889.44,407.43 L889.92,407.58 L890.41,407.73 L890.90,407.88 L891.39,408.03 L891.89,408.18 L892.39,408.34 L892.90,408.49 L893.41,408.65 L893.92,408.81 L894.43,408.97 L894.95,409.13 L895.47,409.30 L896.00,409.47 L896.53,409.63 L897.06,409.81 L897.60,409.98 L898.14,410.15 L898.69,410.33 L899.24,410.51 L899.79,410.69 L900.35,410.87 L900.91,411.05 L901.48,411.24 L902.05,411.43 L902.62,411.62 L903.20,411.81 L903.78,412.01 L904.36,412.20 L904.95,412.40 L905.55,412.61 L906.15,412.81 L906.75,413.02 L907.36,413.23 L907.97,413.44 L908.59,413.65 L909.21,413.87 L909.84,414.09 L910.47,414.31 L911.10,414.53 L911.74,414.76 L912.39,414.99 L913.04,415.22 L913.69,415.46 L914.35,415.69 L915.01,415.93 L915.68,416.18 L916.36,416.42 L917.03,416.67 L917.72,416.93 L918.41,417.18 L919.10,417.44 L919.80,417.70 L920.51,417.97 L921.21,418.24 L921.93,418.51 L922.65,418.78 L923.38,419.06 L924.11,419.34 L924.84,419.63 L925.58,419.92 L926.33,420.21 L927.09,420.51 L927.84,420.81 L928.61,421.11 L929.38,421.42 L930.15,421.73 L930.93,422.04 L931.72,422.36 L932.51,422.68 L933.31,423.01 L934.12,423.34 L934.93,423.67 L935.74,424.01 L936.56,424.36 L937.39,424.71 L938.22,425.06 L939.06,425.41 L939.91,425.77 L940.76,426.14 L941.62,426.51 L942.48,426.89 L943.35,427.26 L944.23,427.65 L945.11,428.04 L946.00,428.43 L946.89,428.83 L947.79,429.24 L948.70,429.64 L949.61,430.06 L950.53,430.48 L951.45,430.90 L952.38,431.33 L953.32,431.77 L954.26,432.21 L955.21,432.66 L956.17,433.11 L957.13,433.57 L958.10,434.03 L959.07,434.50 L960.05,434.98 L961.04,435.46 L962.03,435.95 L963.02,436.44 L964.03,436.94 L965.04,437.44 L966.05,437.96 L967.07,438.48 Z" fill="#000"/>
</g>
<path d="M486,432.3 L629.6,432.3 L629.6,418.6 L664.7,439 L629.6,459.4 L629.6,445.8 L486,445.8 Z" fill="#e07f6d"/>
<path d="M1117,4.6 L1297,4.6 L1297,95.4 L1117,95.4 L1117,60.3 L1078.3,49.7 L1117,40.2 Z" fill="#fbe27f"/>
<path d="M664.3,616.8 L664.3,537 Q664.3,533.8 667.5,533.8 L700.5,533.8 Q702.5,533.8 704,535.6 L709.7,544.3 L769.5,544.3 Q772.2,544.3 772.2,547 L772.2,614 Q772.2,616.8 769.5,616.8 Z" fill="#d1e3ed" stroke="#4c89b0" stroke-width="1.3"/>
<path d="M664.3,544.3 L664.3,537 Q664.3,533.8 667.5,533.8 L700.5,533.8 Q702.5,533.8 704,535.6 L709.7,544.3 Z" fill="#a6c6db" stroke="#4c89b0" stroke-width="1.3"/>
<path d="M622.2,563.4 L622.2,638 A34.05,10.2 0 0 0 690.3,638 L690.3,563.4 Z" fill="#a6c6db" stroke="#4c89b0" stroke-width="1.3"/>
<ellipse cx="656.25" cy="563.4" rx="34.05" ry="10.2" fill="#d1e3ed" stroke="#4c89b0" stroke-width="1.3"/>
<path d="M971.7,615.7 L911.6,702.9 L971.7,732.3 Z" fill="#d1e3ed" stroke="#4c89b0" stroke-width="1.3" stroke-linejoin="round"/>
<path d="M971.7,615.7 L1032.3,703.6 L971.7,732.3 Z" fill="#a6c6db" stroke="#4c89b0" stroke-width="1.3" stroke-linejoin="round"/>
<path d="M1099.3,632 L1110.6,620.7 L1121.9,632 L1122.4,636.1 L1132.3,645.9 L1124.8,653.1 L1114.9,643.6 L1110.9,643 Z" fill="#a6c6db" stroke="#4c89b0" stroke-width="1.1" stroke-linejoin="round"/>
<path d="M1142.7,676.6 L1156,665 L1174.5,681.5 A9.5,9.5 0 0 1 1160,695.5 Z" fill="#a6c6db" stroke="#4c89b0" stroke-width="1.1" stroke-linejoin="round"/>
<path d="M1165.9,619.8 A21.4,21.4 0 1 0 1179.2,632 L1167,643.6 L1154.9,631.4 Z" fill="#a6c6db" stroke="#4c89b0" stroke-width="2.2" stroke-linejoin="round"/>
<path d="M1138,646 L1152,659 L1117,695 Q1115,698 1112,697.5 L1101,697.5 Q1099.5,697 1099.5,695 L1099.5,685 Q1100,683 1102,681 Z" fill="#a6c6db" stroke="#4c89b0" stroke-width="2.2" stroke-linejoin="round"/>
<path d="M1165.9,619.8 A21.4,21.4 0 1 0 1179.2,632 L1167,643.6 L1154.9,631.4 Z" fill="#a6c6db"/>
<path d="M1138,646 L1152,659 L1117,695 Q1115,698 1112,697.5 L1101,697.5 Q1099.5,697 1099.5,695 L1099.5,685 Q1100,683 1102,681 Z" fill="#a6c6db"/>
<path d="M762.28,203.77 A46.6,46.6 0 0 0 717.24,255.95" fill="none" stroke="#4d8db5" stroke-width="7.3"/>
<path d="M723.77,274.70 A46.6,46.6 0 0 0 790.82,288.10" fill="none" stroke="#4d8db5" stroke-width="7.3"/>
<path d="M804.06,273.30 A46.6,46.6 0 0 0 781.78,207.49" fill="none" stroke="#4d8db5" stroke-width="7.3"/>
<path d="M786.67,197.21 L781.33,219.79 L763.91,203.75 Z" fill="#4d8db5"/>
<path d="M705.90,256.85 L728.12,250.19 L722.94,273.30 Z" fill="#4d8db5"/>
<path d="M797.11,297.58 L780.51,281.37 L803.23,274.70 Z" fill="#4d8db5"/>
<circle cx="747.8" cy="225.7" r="3.9" fill="#4d8db5"/>
<path d="M741.8,233.2 L753.8,233.2 L759.3,249.7 L756.5999999999999,251.0 L753.4,242.7 L753.4,280.2 L749.4,280.2 L749.4,254.7 L746.1999999999999,254.7 L746.1999999999999,280.2 L742.1999999999999,280.2 L742.1999999999999,242.7 L739.0,251.0 L736.3,249.7 Z" fill="#4d8db5" stroke="#4d8db5" stroke-width="0.6" stroke-linejoin="round"/>
<circle cx="775.4" cy="225.7" r="3.9" fill="#4d8db5"/>
<path d="M769.4,233.2 L781.4,233.2 L786.9,249.7 L784.1999999999999,251.0 L781.0,242.7 L781.0,280.2 L777.0,280.2 L777.0,254.7 L773.8,254.7 L773.8,280.2 L769.8,280.2 L769.8,242.7 L766.6,251.0 L763.9,249.7 Z" fill="#4d8db5" stroke="#4d8db5" stroke-width="0.6" stroke-linejoin="round"/>
<path d="M957.1,274.4 L957.1,264.2 L971.8,264.2 L971.8,257.2 L986.4,257.2 L986.4,249.6 L1000.4,249.6 L1000.4,241.9 L1015.1,241.9 L1015.1,234.3 L1029.8,234.3 L1029.8,227.3 L1046.3,227.3 L1046.3,232.4 L1034.2,232.4 L1034.2,239.4 L1019.6,239.4 L1019.6,247 L1004.9,247 L1004.9,254.7 L990.9,254.7 L990.9,262.3 L976.2,262.3 L976.2,269.3 L961.6,269.3 L961.6,274.4 Z" fill="#4d8db5"/>
<circle cx="982" cy="200.2" r="3.8" fill="#4d8db5"/>
<line x1="982.2" y1="211.5" x2="982.2" y2="226" stroke="#4d8db5" stroke-width="7.6" stroke-linecap="round"/>
<path d="M982,216 L971.8,226 M981.3,228 L981.3,252.8 M982.6,235 L990.3,245.1" stroke="#4d8db5" stroke-width="4.6" stroke-linecap="round" fill="none"/>
<circle cx="1010" cy="185.8" r="3.8" fill="#4d8db5"/>
<line x1="1010" y1="197" x2="1010" y2="211" stroke="#4d8db5" stroke-width="7.6" stroke-linecap="round"/>
<path d="M1012.6,202 L1021.5,207.5 M1010.6,213.2 L1010.6,238.7 M1012.6,214.5 L1020.2,221.5 L1020.2,232.4" stroke="#4d8db5" stroke-width="4.6" stroke-linecap="round" stroke-linejoin="round" fill="none"/>
<text x="279.7" y="47.0" font-size="25.0" fill="#c44d37" stroke="#c44d37" stroke-width="0.2" text-anchor="middle" textLength="443.4" lengthAdjust="spacingAndGlyphs">EAM is a reference architecture (i.e., a</text>
<text x="280.1" y="77.8" font-size="25.0" fill="#c44d37" stroke="#c44d37" stroke-width="0.2" text-anchor="middle" textLength="464.2" lengthAdjust="spacingAndGlyphs">self-contained architecture style) for EA</text>
<text x="280.7" y="142.7" font-size="25.0" fill="#c44d37" stroke="#c44d37" stroke-width="0.2" text-anchor="middle" textLength="522.2" lengthAdjust="spacingAndGlyphs">Enablers 1 – 5 are architectural patterns that</text>
<text x="280.6" y="172.5" font-size="25.0" fill="#c44d37" stroke="#c44d37" stroke-width="0.2" text-anchor="middle" textLength="558.3" lengthAdjust="spacingAndGlyphs">help implement the EAM reference architecture</text>
<text x="280.7" y="724.5" font-size="25.0" fill="#c44d37" stroke="#c44d37" stroke-width="0.2" text-anchor="middle" textLength="522.1" lengthAdjust="spacingAndGlyphs">Enablers 4 – 5 provide necessary support for</text>
<text x="279.8" y="755.6" font-size="25.0" fill="#c44d37" stroke="#c44d37" stroke-width="0.2" text-anchor="middle" textLength="112.0" lengthAdjust="spacingAndGlyphs">Enabler 1</text>
<text x="1194.0" y="309.7" font-size="25.0" fill="#c44d37" stroke="#c44d37" stroke-width="0.2" text-anchor="middle" textLength="137.5" lengthAdjust="spacingAndGlyphs">Capabilities</text>
<text x="1193.6" y="339.7" font-size="25.0" fill="#c44d37" stroke="#c44d37" stroke-width="0.2" text-anchor="middle" textLength="201.6" lengthAdjust="spacingAndGlyphs">implementations</text>
<text x="1193.4" y="370.3" font-size="25.0" fill="#c44d37" stroke="#c44d37" stroke-width="0.2" text-anchor="middle" textLength="150.0" lengthAdjust="spacingAndGlyphs">include agile</text>
<text x="1193.1" y="400.2" font-size="25.0" fill="#c44d37" stroke="#c44d37" stroke-width="0.2" text-anchor="middle" textLength="159.8" lengthAdjust="spacingAndGlyphs">activities (i.e.,</text>
<text x="1194.1" y="430.2" font-size="25.0" fill="#c44d37" stroke="#c44d37" stroke-width="0.2" text-anchor="middle" textLength="185.8" lengthAdjust="spacingAndGlyphs">process pattern</text>
<text x="1193.2" y="461.5" font-size="25.0" fill="#c44d37" stroke="#c44d37" stroke-width="0.2" text-anchor="middle" textLength="172.2" lengthAdjust="spacingAndGlyphs">instances) and</text>
<text x="1193.0" y="492.6" font-size="25.0" fill="#c44d37" stroke="#c44d37" stroke-width="0.2" text-anchor="middle" textLength="187.5" lengthAdjust="spacingAndGlyphs">their associated</text>
<text x="1193.5" y="523.0" font-size="25.0" fill="#c44d37" stroke="#c44d37" stroke-width="0.2" text-anchor="middle" textLength="153.0" lengthAdjust="spacingAndGlyphs">artifacts (i.e.,</text>
<text x="1193.4" y="553.1" font-size="25.0" fill="#c44d37" stroke="#c44d37" stroke-width="0.2" text-anchor="middle" textLength="143.4" lengthAdjust="spacingAndGlyphs">artifact type</text>
<text x="1193.9" y="583.6" font-size="25.0" fill="#c44d37" stroke="#c44d37" stroke-width="0.2" text-anchor="middle" textLength="120.8" lengthAdjust="spacingAndGlyphs">instances)</text>
<text x="120.0" y="290.7" font-size="22.3" fill="#151515" stroke="#151515" stroke-width="0.2" text-anchor="middle" textLength="64.9" lengthAdjust="spacingAndGlyphs">Vision</text>
<text x="120.2" y="317.4" font-size="22.3" fill="#151515" stroke="#151515" stroke-width="0.2" text-anchor="middle" textLength="42.4" lengthAdjust="spacingAndGlyphs">and</text>
<text x="120.8" y="344.6" font-size="22.3" fill="#151515" stroke="#151515" stroke-width="0.2" text-anchor="middle" textLength="88.6" lengthAdjust="spacingAndGlyphs">strategy</text>
<text x="437.5" y="290.6" font-size="22.3" fill="#151515" stroke="#151515" stroke-width="0.2" text-anchor="middle" textLength="94.4" lengthAdjust="spacingAndGlyphs">Business</text>
<text x="437.0" y="317.7" font-size="22.3" fill="#151515" stroke="#151515" stroke-width="0.2" text-anchor="middle" textLength="86.4" lengthAdjust="spacingAndGlyphs">solution</text>
<text x="437.5" y="344.9" font-size="22.3" fill="#151515" stroke="#151515" stroke-width="0.2" text-anchor="middle" textLength="141.3" lengthAdjust="spacingAndGlyphs">development</text>
<text x="121.0" y="541.8" font-size="22.3" fill="#151515" stroke="#151515" stroke-width="0.2" text-anchor="middle" textLength="94.1" lengthAdjust="spacingAndGlyphs">Business</text>
<text x="120.6" y="568.6" font-size="22.3" fill="#151515" stroke="#151515" stroke-width="0.2" text-anchor="middle" textLength="86.7" lengthAdjust="spacingAndGlyphs">solution</text>
<text x="120.8" y="595.4" font-size="22.3" fill="#151515" stroke="#151515" stroke-width="0.2" text-anchor="middle" textLength="138.0" lengthAdjust="spacingAndGlyphs">maintenance</text>
<text x="437.5" y="541.5" font-size="22.3" fill="#151515" stroke="#151515" stroke-width="0.2" text-anchor="middle" textLength="94.4" lengthAdjust="spacingAndGlyphs">Business</text>
<text x="437.0" y="568.2" font-size="22.3" fill="#151515" stroke="#151515" stroke-width="0.2" text-anchor="middle" textLength="86.4" lengthAdjust="spacingAndGlyphs">solution</text>
<text x="437.1" y="595.4" font-size="22.3" fill="#151515" stroke="#151515" stroke-width="0.2" text-anchor="middle" textLength="117.5" lengthAdjust="spacingAndGlyphs">refactoring</text>
<text x="735.3" y="18.8" font-size="25.0" fill="#2a6b91" stroke="#2a6b91" stroke-width="0.2" text-anchor="middle" textLength="135.4" lengthAdjust="spacingAndGlyphs">Enabler #5:</text>
<text x="734.9" y="49.0" font-size="25.0" fill="#2a6b91" stroke="#2a6b91" stroke-width="0.2" text-anchor="middle" textLength="143.8" lengthAdjust="spacingAndGlyphs">Incremental</text>
<text x="735.3" y="79.2" font-size="25.0" fill="#2a6b91" stroke="#2a6b91" stroke-width="0.2" text-anchor="middle" textLength="97.8" lengthAdjust="spacingAndGlyphs">iterative</text>
<text x="735.1" y="109.5" font-size="25.0" fill="#2a6b91" stroke="#2a6b91" stroke-width="0.2" text-anchor="middle" textLength="123.3" lengthAdjust="spacingAndGlyphs">enterprise</text>
<text x="734.7" y="139.7" font-size="25.0" fill="#2a6b91" stroke="#2a6b91" stroke-width="0.2" text-anchor="middle" textLength="179.2" lengthAdjust="spacingAndGlyphs">transformation</text>
<text x="735.7" y="169.3" font-size="25.0" fill="#2a6b91" stroke="#2a6b91" stroke-width="0.2" text-anchor="middle" textLength="158.9" lengthAdjust="spacingAndGlyphs">methodology</text>
<text x="990.9" y="18.8" font-size="25.0" fill="#2a6b91" stroke="#2a6b91" stroke-width="0.2" text-anchor="middle" textLength="135.3" lengthAdjust="spacingAndGlyphs">Enabler #1:</text>
<text x="991.8" y="48.6" font-size="25.0" fill="#2a6b91" stroke="#2a6b91" stroke-width="0.2" text-anchor="middle" textLength="152.5" lengthAdjust="spacingAndGlyphs">Best practice</text>
<text x="991.2" y="79.2" font-size="25.0" fill="#2a6b91" stroke="#2a6b91" stroke-width="0.2" text-anchor="middle" textLength="204.5" lengthAdjust="spacingAndGlyphs">process patterns,</text>
<text x="990.8" y="109.5" font-size="25.0" fill="#2a6b91" stroke="#2a6b91" stroke-width="0.2" text-anchor="middle" textLength="212.9" lengthAdjust="spacingAndGlyphs">artifact types, and</text>
<text x="989.9" y="139.7" font-size="25.0" fill="#2a6b91" stroke="#2a6b91" stroke-width="0.2" text-anchor="middle" textLength="158.3" lengthAdjust="spacingAndGlyphs">organization/</text>
<text x="991.1" y="169.3" font-size="25.0" fill="#2a6b91" stroke="#2a6b91" stroke-width="0.2" text-anchor="middle" textLength="187.9" lengthAdjust="spacingAndGlyphs">location models</text>
<text x="757.3" y="673.3" font-size="25.0" fill="#2a6b91" stroke="#2a6b91" stroke-width="0.2" text-anchor="middle" textLength="136.9" lengthAdjust="spacingAndGlyphs">Enabler #3:</text>
<text x="757.4" y="703.6" font-size="25.0" fill="#2a6b91" stroke="#2a6b91" stroke-width="0.2" text-anchor="middle" textLength="122.7" lengthAdjust="spacingAndGlyphs">Extensible</text>
<text x="757.0" y="733.9" font-size="25.0" fill="#2a6b91" stroke="#2a6b91" stroke-width="0.2" text-anchor="middle" textLength="171.5" lengthAdjust="spacingAndGlyphs">framework for</text>
<text x="756.8" y="764.2" font-size="25.0" fill="#2a6b91" stroke="#2a6b91" stroke-width="0.2" text-anchor="middle" textLength="163.1" lengthAdjust="spacingAndGlyphs">traceable and</text>
<text x="757.3" y="794.5" font-size="25.0" fill="#2a6b91" stroke="#2a6b91" stroke-width="0.2" text-anchor="middle" textLength="193.4" lengthAdjust="spacingAndGlyphs">reusable artifact</text>
<text x="756.7" y="824.8" font-size="25.0" fill="#2a6b91" stroke="#2a6b91" stroke-width="0.2" text-anchor="middle" textLength="116.4" lengthAdjust="spacingAndGlyphs">types and</text>
<text x="757.1" y="855.2" font-size="25.0" fill="#2a6b91" stroke="#2a6b91" stroke-width="0.2" text-anchor="middle" textLength="178.8" lengthAdjust="spacingAndGlyphs">methodologies</text>
<text x="970.8" y="765.4" font-size="25.0" fill="#2a6b91" stroke="#2a6b91" stroke-width="0.2" text-anchor="middle" textLength="135.6" lengthAdjust="spacingAndGlyphs">Enabler #2:</text>
<text x="970.5" y="795.9" font-size="25.0" fill="#2a6b91" stroke="#2a6b91" stroke-width="0.2" text-anchor="middle" textLength="152.9" lengthAdjust="spacingAndGlyphs">Best pratices</text>
<text x="970.8" y="826.5" font-size="25.0" fill="#2a6b91" stroke="#2a6b91" stroke-width="0.2" text-anchor="middle" textLength="131.0" lengthAdjust="spacingAndGlyphs">knowledge</text>
<text x="970.8" y="856.0" font-size="25.0" fill="#2a6b91" stroke="#2a6b91" stroke-width="0.2" text-anchor="middle" textLength="57.1" lengthAdjust="spacingAndGlyphs">base</text>
<text x="1195.7" y="735.0" font-size="25.0" fill="#2a6b91" stroke="#2a6b91" stroke-width="0.2" text-anchor="middle" textLength="136.7" lengthAdjust="spacingAndGlyphs">Enabler #4:</text>
<text x="1196.0" y="764.7" font-size="25.0" fill="#2a6b91" stroke="#2a6b91" stroke-width="0.2" text-anchor="middle" textLength="135.5" lengthAdjust="spacingAndGlyphs">Design and</text>
<text x="1195.9" y="795.9" font-size="25.0" fill="#2a6b91" stroke="#2a6b91" stroke-width="0.2" text-anchor="middle" textLength="160.0" lengthAdjust="spacingAndGlyphs">runtime tools</text>
<text x="1207.1" y="40.6" font-size="25.0" fill="#151515" stroke="#151515" stroke-width="0.2" text-anchor="middle" textLength="122.8" lengthAdjust="spacingAndGlyphs">Enterprise</text>
<text x="1206.8" y="70.3" font-size="25.0" fill="#151515" stroke="#151515" stroke-width="0.2" text-anchor="middle" textLength="157.0" lengthAdjust="spacingAndGlyphs">“capabilities”</text>
</svg>
</body></html>
